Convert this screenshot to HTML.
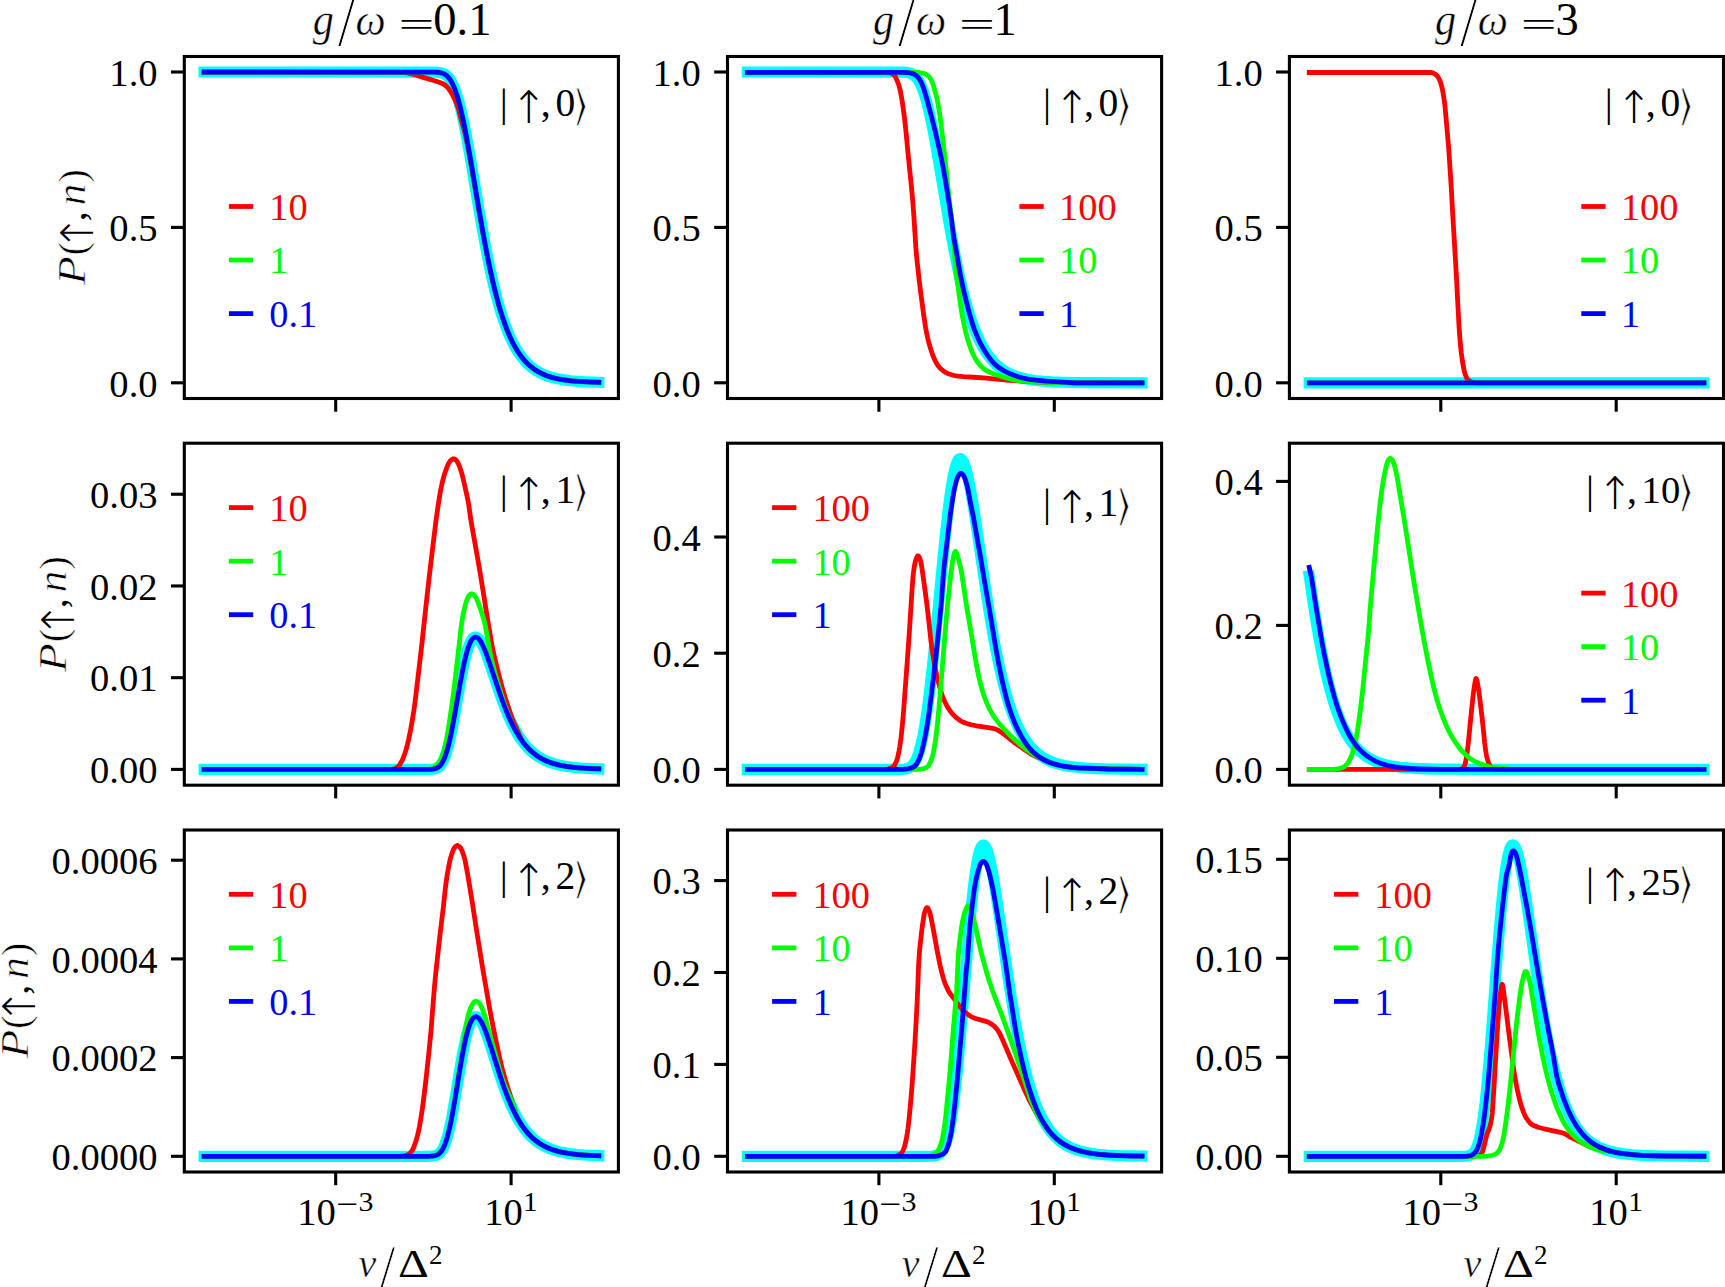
<!DOCTYPE html>
<html><head><meta charset="utf-8"><title>LZ plot</title>
<style>html,body{margin:0;padding:0;background:#fff;}svg{display:block;}</style></head>
<body>
<svg width="1725" height="1287" viewBox="0 0 1725 1287" font-family="'Liberation Serif', 'DejaVu Math TeX Gyre', 'DejaVu Serif', serif">
<g>
<clipPath id="cp00"><rect x="184.30" y="56.50" width="434.10" height="342.00"/></clipPath>
<g clip-path="url(#cp00)">
<path d="M204.15,72.00 L432.58,72.03 L435.21,72.09 L437.52,72.23 L439.49,72.48 L441.14,72.81 L442.78,73.33 L444.10,73.91 L445.42,74.69 L446.40,75.42 L447.39,76.29 L448.38,77.33 L450.02,79.47 L451.01,81.01 L452.00,82.78 L453.65,86.24 L455.29,90.38 L456.94,95.23 L458.58,100.79 L460.23,107.06 L461.87,114.00 L463.52,121.57 L465.17,129.71 L466.81,138.34 L470.43,158.67 L478.99,209.61 L482.94,232.29 L485.24,244.86 L487.22,255.14 L489.52,266.52 L491.50,275.71 L493.80,285.75 L496.43,296.34 L498.74,304.83 L501.37,313.68 L504.01,321.66 L506.64,328.82 L509.27,335.23 L510.59,338.17 L512.23,341.60 L513.88,344.80 L515.53,347.76 L517.17,350.50 L518.82,353.04 L520.46,355.40 L522.11,357.57 L523.75,359.58 L525.73,361.79 L527.37,363.47 L529.35,365.32 L531.32,367.00 L533.30,368.52 L535.27,369.89 L537.58,371.34 L539.88,372.62 L542.19,373.77 L544.49,374.78 L546.79,375.68 L549.43,376.59 L552.06,377.39 L554.69,378.08 L557.66,378.76 L560.62,379.34 L563.91,379.88 L570.82,380.77 L578.72,381.46 L587.94,381.97 L598.80,382.33" fill="none" stroke="#00ffff" stroke-width="11.20" stroke-linecap="square" stroke-linejoin="round"/>
<path d="M204.15,72.30 L398.68,72.30 L403.94,72.47 L405.59,72.60 L407.56,72.93 L413.82,74.51 L416.45,75.27 L422.38,77.11 L432.91,80.21 L439.16,82.22 L441.14,82.95 L442.45,83.53 L443.44,84.04 L445.09,85.19 L446.40,86.33 L447.72,87.66 L449.04,89.33 L450.35,91.23 L451.67,93.45 L453.65,97.06 L454.63,99.00 L455.62,101.17 L457.27,105.28 L458.58,109.27 L460.89,118.32 L463.85,128.83 L464.84,132.83 L465.82,137.29 L467.47,145.35 L468.79,152.28 L471.75,168.85 L480.64,220.35 L484.91,243.85 L486.89,254.06 L488.86,263.82 L490.84,273.10 L492.48,280.43 L494.79,290.08 L497.42,300.25 L499.73,308.39 L502.36,316.87 L504.99,324.51 L507.63,331.36 L510.26,337.48 L511.58,340.29 L513.22,343.57 L514.54,346.03 L516.18,348.90 L517.83,351.56 L519.48,354.02 L521.12,356.29 L522.77,358.40 L524.41,360.34 L526.39,362.48 L528.03,364.11 L530.01,365.90 L531.98,367.52 L533.96,368.99 L535.93,370.33 L538.24,371.72 L540.54,372.96 L542.84,374.07 L545.15,375.05 L547.45,375.92 L550.09,376.80 L552.72,377.57 L555.35,378.24 L558.31,378.89 L561.28,379.45 L564.57,379.98 L571.48,380.84 L579.05,381.48 L587.94,381.97 L598.80,382.33" fill="none" stroke="#ff0000" stroke-width="4.80" stroke-linecap="square" stroke-linejoin="round"/>
<path d="M204.15,72.00 L432.58,72.03 L435.21,72.09 L437.52,72.23 L439.49,72.48 L441.14,72.81 L442.78,73.33 L444.10,73.91 L445.42,74.69 L446.40,75.42 L447.39,76.29 L448.38,77.33 L450.02,79.47 L451.01,81.01 L452.00,82.78 L453.65,86.24 L455.29,90.38 L456.94,95.23 L458.58,100.79 L460.23,107.06 L461.87,114.00 L463.52,121.57 L465.17,129.71 L466.81,138.34 L470.43,158.67 L478.99,209.61 L482.94,232.29 L485.24,244.86 L487.22,255.14 L489.52,266.52 L491.50,275.71 L493.80,285.75 L496.43,296.34 L498.74,304.83 L501.37,313.68 L504.01,321.66 L506.64,328.82 L509.27,335.23 L510.59,338.17 L512.23,341.60 L513.88,344.80 L515.53,347.76 L517.17,350.50 L518.82,353.04 L520.46,355.40 L522.11,357.57 L523.75,359.58 L525.73,361.79 L527.37,363.47 L529.35,365.32 L531.32,367.00 L533.30,368.52 L535.27,369.89 L537.58,371.34 L539.88,372.62 L542.19,373.77 L544.49,374.78 L546.79,375.68 L549.43,376.59 L552.06,377.39 L554.69,378.08 L557.66,378.76 L560.62,379.34 L563.91,379.88 L570.82,380.77 L578.72,381.46 L587.94,381.97 L598.80,382.33" fill="none" stroke="#00ff00" stroke-width="4.80" stroke-linecap="square" stroke-linejoin="round"/>
<path d="M204.15,72.00 L432.58,72.03 L435.21,72.09 L437.52,72.23 L439.49,72.48 L441.14,72.81 L442.78,73.33 L444.10,73.91 L445.42,74.69 L446.40,75.42 L447.39,76.29 L448.38,77.33 L450.02,79.47 L451.01,81.01 L452.00,82.78 L453.65,86.24 L455.29,90.38 L456.94,95.23 L458.58,100.79 L460.23,107.06 L461.87,114.00 L463.52,121.57 L465.17,129.71 L466.81,138.34 L470.43,158.67 L478.99,209.61 L482.94,232.29 L485.24,244.86 L487.22,255.14 L489.52,266.52 L491.50,275.71 L493.80,285.75 L496.43,296.34 L498.74,304.83 L501.37,313.68 L504.01,321.66 L506.64,328.82 L509.27,335.23 L510.59,338.17 L512.23,341.60 L513.88,344.80 L515.53,347.76 L517.17,350.50 L518.82,353.04 L520.46,355.40 L522.11,357.57 L523.75,359.58 L525.73,361.79 L527.37,363.47 L529.35,365.32 L531.32,367.00 L533.30,368.52 L535.27,369.89 L537.58,371.34 L539.88,372.62 L542.19,373.77 L544.49,374.78 L546.79,375.68 L549.43,376.59 L552.06,377.39 L554.69,378.08 L557.66,378.76 L560.62,379.34 L563.91,379.88 L570.82,380.77 L578.72,381.46 L587.94,381.97 L598.80,382.33" fill="none" stroke="#0000ff" stroke-width="4.80" stroke-linecap="square" stroke-linejoin="round"/>
</g>
<rect x="184.30" y="56.50" width="434.10" height="342.00" fill="none" stroke="#000" stroke-width="3.10"/>
<line x1="335.70" y1="398.50" x2="335.70" y2="411.70" stroke="#000" stroke-width="3.10"/>
<line x1="511.10" y1="398.50" x2="511.10" y2="411.70" stroke="#000" stroke-width="3.10"/>
<line x1="171.00" y1="382.80" x2="184.30" y2="382.80" stroke="#000" stroke-width="3.10"/>
<text text-anchor="end"><tspan x="157.60" y="396.50" font-size="38.60">0.0</tspan></text>
<line x1="171.00" y1="227.40" x2="184.30" y2="227.40" stroke="#000" stroke-width="3.10"/>
<text text-anchor="end"><tspan x="157.60" y="241.10" font-size="38.60">0.5</tspan></text>
<line x1="171.00" y1="72.00" x2="184.30" y2="72.00" stroke="#000" stroke-width="3.10"/>
<text text-anchor="end"><tspan x="157.60" y="85.70" font-size="38.60">1.0</tspan></text>
<text><tspan x="312.70" y="34.60" font-size="46.00" font-style="italic" stroke="#fff" stroke-width="0.50" textLength="21.16" lengthAdjust="spacingAndGlyphs">g</tspan><tspan x="337.70" y="45.00" font-size="72.00" stroke="#fff" stroke-width="1.00" textLength="17.60" lengthAdjust="spacingAndGlyphs">/</tspan><tspan x="355.60" y="34.60" font-size="45.00" font-style="italic" stroke="#fff" stroke-width="0.50" textLength="40.87" lengthAdjust="spacingAndGlyphs">ω </tspan><tspan x="398.60" y="35.60" font-size="33.00" textLength="35.92" lengthAdjust="spacingAndGlyphs">=</tspan><tspan x="433.30" y="34.60" font-size="46.50">0.1</tspan></text>
<text transform="translate(85.20,285.10) rotate(-90)"><tspan x="0.00" y="0.00" font-size="40.00" font-style="italic" stroke="#fff" stroke-width="0.60" textLength="28.83" lengthAdjust="spacingAndGlyphs">P</tspan><tspan x="29.70" y="0.80" font-size="41.00" stroke="#fff" stroke-width="0.60">(</tspan><tspan x="34.10" y="7.40" font-size="45.00" font-family="'DejaVu Sans Light', 'DejaVu Sans', serif" textLength="36.57" lengthAdjust="spacingAndGlyphs">↑</tspan><tspan x="63.80" y="0.00" font-size="40.00">, </tspan><tspan x="79.50" y="0.00" font-size="39.00" font-style="italic" stroke="#fff" stroke-width="0.60" textLength="21.84" lengthAdjust="spacingAndGlyphs">n</tspan><tspan x="102.30" y="0.80" font-size="41.00" stroke="#fff" stroke-width="0.60">)</tspan></text>
<text><tspan x="499.70" y="116.30" font-size="40.00">|</tspan><tspan x="510.60" y="123.10" font-size="45.00" font-family="'DejaVu Sans Light', 'DejaVu Sans', serif" textLength="36.57" lengthAdjust="spacingAndGlyphs">↑</tspan><tspan x="540.70" y="116.30" font-size="40.00">,</tspan><tspan x="555.40" y="116.30" font-size="39.50">0</tspan><tspan x="574.90" y="118.90" font-size="44.00" font-family="'DejaVu Math TeX Gyre', 'DejaVu Sans', serif" stroke="#fff" stroke-width="0.70" textLength="12.87" lengthAdjust="spacingAndGlyphs">⟩</tspan></text>
<line x1="231.30" y1="206.50" x2="250.80" y2="206.50" stroke="#ff0000" stroke-width="4.80" stroke-linecap="square"/>
<text fill="#ff0000"><tspan x="269.20" y="219.90" font-size="38.40">10</tspan></text>
<line x1="231.30" y1="260.05" x2="250.80" y2="260.05" stroke="#00ff00" stroke-width="4.80" stroke-linecap="square"/>
<text fill="#00ff00"><tspan x="269.20" y="273.45" font-size="38.40">1</tspan></text>
<line x1="231.30" y1="313.60" x2="250.80" y2="313.60" stroke="#0000ff" stroke-width="4.80" stroke-linecap="square"/>
<text fill="#0000ff"><tspan x="269.20" y="327.00" font-size="38.40">0.1</tspan></text>
</g>
<g>
<clipPath id="cp01"><rect x="727.50" y="56.50" width="434.10" height="342.00"/></clipPath>
<g clip-path="url(#cp01)">
<path d="M747.35,72.00 L901.06,72.04 L905.34,72.24 L906.99,72.43 L908.63,72.74 L910.28,73.22 L911.60,73.77 L912.91,74.50 L913.90,75.19 L915.22,76.33 L916.20,77.38 L917.19,78.60 L918.18,80.02 L919.17,81.64 L920.15,83.49 L921.14,85.58 L922.13,87.91 L923.12,90.48 L924.10,93.32 L925.75,98.61 L927.72,105.90 L929.70,114.17 L931.02,120.19 L932.66,128.23 L934.31,136.78 L936.28,147.60 L939.24,164.68 L948.46,219.43 L951.09,234.34 L953.73,248.54 L956.69,263.52 L959.32,275.88 L961.96,287.29 L964.92,298.98 L967.55,308.38 L968.87,312.75 L970.51,317.89 L973.15,325.44 L974.46,328.92 L976.11,333.00 L977.43,336.06 L979.07,339.65 L980.39,342.34 L982.03,345.48 L983.68,348.39 L985.32,351.09 L986.97,353.58 L988.62,355.90 L990.59,358.44 L992.57,360.75 L994.54,362.85 L996.52,364.76 L998.49,366.49 L1000.79,368.30 L1003.10,369.92 L1005.73,371.55 L1008.04,372.81 L1010.67,374.09 L1013.30,375.20 L1016.26,376.28 L1019.23,377.21 L1022.19,378.01 L1025.48,378.77 L1029.10,379.46 L1032.39,379.99 L1036.01,380.47 L1043.58,381.23 L1052.47,381.82 L1063.00,382.23 L1075.18,382.50 L1090.32,382.67 L1142.00,382.79" fill="none" stroke="#00ffff" stroke-width="11.20" stroke-linecap="square" stroke-linejoin="round"/>
<path d="M747.35,72.30 L880.00,72.30 L886.25,72.36 L887.90,72.47 L889.54,72.70 L890.53,72.98 L891.85,73.53 L892.83,74.06 L893.82,74.83 L894.48,75.48 L895.14,76.38 L895.80,77.59 L896.45,79.03 L898.10,83.11 L899.09,86.12 L900.08,89.83 L901.06,94.66 L902.05,100.31 L903.04,107.04 L904.68,119.41 L905.67,128.59 L908.30,155.99 L911.60,188.46 L912.25,195.51 L912.91,203.41 L913.90,216.59 L915.87,247.68 L916.53,255.34 L917.19,262.11 L919.17,279.98 L920.81,293.45 L923.77,315.39 L925.42,326.44 L926.08,330.23 L926.74,333.55 L927.72,338.04 L928.71,342.07 L929.70,345.69 L931.02,350.01 L932.33,353.93 L933.32,356.57 L934.31,358.88 L935.29,360.86 L936.61,363.26 L937.93,365.38 L938.91,366.75 L939.90,367.90 L941.22,369.14 L942.54,370.24 L944.18,371.46 L945.50,372.29 L947.14,373.16 L948.46,373.71 L951.09,374.58 L953.40,375.23 L956.03,375.82 L958.33,376.21 L963.27,376.69 L973.48,377.27 L986.64,378.20 L990.92,378.58 L1001.78,379.69 L1009.68,380.36 L1015.94,380.80 L1030.09,381.65 L1039.96,382.09 L1048.19,382.29 L1068.27,382.56 L1075.18,382.79 L1142.00,382.80" fill="none" stroke="#ff0000" stroke-width="4.80" stroke-linecap="square" stroke-linejoin="round"/>
<path d="M747.35,72.30 L915.22,72.30 L917.19,72.39 L919.50,72.60 L922.13,73.02 L923.77,73.45 L925.42,74.01 L926.08,74.31 L927.07,74.96 L928.05,75.81 L929.04,76.80 L929.70,77.56 L930.36,78.49 L931.02,79.60 L931.67,80.89 L932.33,82.34 L932.99,84.11 L935.95,94.55 L936.94,98.53 L937.60,101.72 L938.26,105.34 L939.90,115.56 L940.89,122.83 L941.88,131.93 L943.52,145.20 L944.18,151.01 L949.12,197.97 L953.07,233.51 L953.73,241.07 L955.04,260.19 L956.03,270.25 L957.35,281.23 L959.65,298.40 L960.97,307.55 L962.28,315.64 L963.93,324.03 L965.58,331.29 L967.22,337.58 L968.54,342.03 L969.53,345.12 L970.51,347.97 L971.50,350.56 L973.15,354.28 L974.46,356.90 L975.45,358.69 L976.44,360.32 L977.43,361.79 L978.74,363.51 L980.39,365.45 L982.03,367.18 L983.35,368.38 L984.67,369.40 L986.31,370.46 L987.96,371.37 L989.93,372.32 L993.88,373.95 L996.85,375.02 L1000.14,376.07 L1008.04,378.42 L1011.00,379.22 L1013.63,379.81 L1015.61,380.16 L1019.23,380.65 L1026.80,381.47 L1034.04,381.96 L1041.61,382.21 L1058.73,382.56 L1065.31,382.79 L1142.00,382.80" fill="none" stroke="#00ff00" stroke-width="4.80" stroke-linecap="square" stroke-linejoin="round"/>
<path d="M747.35,72.30 L901.72,72.32 L907.97,72.61 L908.96,72.71 L910.28,72.95 L911.92,73.39 L913.90,74.08 L914.89,74.61 L915.87,75.33 L917.19,76.52 L918.51,77.92 L919.17,78.77 L920.15,80.35 L921.47,82.85 L922.13,84.34 L923.12,86.93 L924.10,89.81 L926.08,96.52 L927.39,101.25 L932.66,121.17 L935.62,133.10 L939.24,148.52 L940.89,156.27 L942.54,164.57 L944.18,173.40 L945.83,182.84 L947.80,195.21 L950.76,214.76 L951.75,221.92 L953.40,234.98 L954.06,239.03 L955.70,248.01 L959.32,269.09 L960.64,276.09 L962.94,287.18 L964.92,295.90 L966.89,303.87 L969.85,314.92 L972.16,322.81 L974.13,328.79 L975.12,331.45 L976.44,334.69 L977.75,337.73 L979.40,341.27 L980.72,343.90 L982.36,346.95 L983.68,349.22 L985.32,351.85 L987.63,355.30 L989.60,358.08 L991.25,360.22 L992.90,362.18 L994.54,363.91 L995.86,365.13 L997.83,366.71 L1000.14,368.38 L1002.44,369.87 L1004.74,371.21 L1007.05,372.38 L1009.68,373.55 L1013.30,374.95 L1016.92,376.23 L1019.89,377.18 L1022.85,378.01 L1025.81,378.70 L1028.44,379.19 L1031.73,379.63 L1036.34,380.16 L1045.89,381.02 L1055.43,381.67 L1074.85,382.78 L1142.00,382.80" fill="none" stroke="#0000ff" stroke-width="4.80" stroke-linecap="square" stroke-linejoin="round"/>
</g>
<rect x="727.50" y="56.50" width="434.10" height="342.00" fill="none" stroke="#000" stroke-width="3.10"/>
<line x1="878.90" y1="398.50" x2="878.90" y2="411.70" stroke="#000" stroke-width="3.10"/>
<line x1="1054.30" y1="398.50" x2="1054.30" y2="411.70" stroke="#000" stroke-width="3.10"/>
<line x1="714.20" y1="382.80" x2="727.50" y2="382.80" stroke="#000" stroke-width="3.10"/>
<text text-anchor="end"><tspan x="700.80" y="396.50" font-size="38.60">0.0</tspan></text>
<line x1="714.20" y1="227.40" x2="727.50" y2="227.40" stroke="#000" stroke-width="3.10"/>
<text text-anchor="end"><tspan x="700.80" y="241.10" font-size="38.60">0.5</tspan></text>
<line x1="714.20" y1="72.00" x2="727.50" y2="72.00" stroke="#000" stroke-width="3.10"/>
<text text-anchor="end"><tspan x="700.80" y="85.70" font-size="38.60">1.0</tspan></text>
<text><tspan x="873.00" y="34.60" font-size="46.00" font-style="italic" stroke="#fff" stroke-width="0.50" textLength="21.16" lengthAdjust="spacingAndGlyphs">g</tspan><tspan x="898.00" y="45.00" font-size="72.00" stroke="#fff" stroke-width="1.00" textLength="17.60" lengthAdjust="spacingAndGlyphs">/</tspan><tspan x="915.90" y="34.60" font-size="45.00" font-style="italic" stroke="#fff" stroke-width="0.50" textLength="40.87" lengthAdjust="spacingAndGlyphs">ω </tspan><tspan x="958.90" y="35.60" font-size="33.00" textLength="35.92" lengthAdjust="spacingAndGlyphs">=</tspan><tspan x="993.60" y="34.60" font-size="46.50">1</tspan></text>
<text><tspan x="1042.90" y="116.30" font-size="40.00">|</tspan><tspan x="1053.80" y="123.10" font-size="45.00" font-family="'DejaVu Sans Light', 'DejaVu Sans', serif" textLength="36.57" lengthAdjust="spacingAndGlyphs">↑</tspan><tspan x="1083.90" y="116.30" font-size="40.00">,</tspan><tspan x="1098.60" y="116.30" font-size="39.50">0</tspan><tspan x="1118.10" y="118.90" font-size="44.00" font-family="'DejaVu Math TeX Gyre', 'DejaVu Sans', serif" stroke="#fff" stroke-width="0.70" textLength="12.87" lengthAdjust="spacingAndGlyphs">⟩</tspan></text>
<line x1="1021.80" y1="206.50" x2="1041.30" y2="206.50" stroke="#ff0000" stroke-width="4.80" stroke-linecap="square"/>
<text fill="#ff0000"><tspan x="1059.00" y="219.90" font-size="38.40">100</tspan></text>
<line x1="1021.80" y1="260.05" x2="1041.30" y2="260.05" stroke="#00ff00" stroke-width="4.80" stroke-linecap="square"/>
<text fill="#00ff00"><tspan x="1059.00" y="273.45" font-size="38.40">10</tspan></text>
<line x1="1021.80" y1="313.60" x2="1041.30" y2="313.60" stroke="#0000ff" stroke-width="4.80" stroke-linecap="square"/>
<text fill="#0000ff"><tspan x="1059.00" y="327.00" font-size="38.40">1</tspan></text>
</g>
<g>
<clipPath id="cp02"><rect x="1289.40" y="56.50" width="434.10" height="342.00"/></clipPath>
<g clip-path="url(#cp02)">
<path d="M1309.25,382.80 L1703.90,382.80" fill="none" stroke="#00ffff" stroke-width="11.20" stroke-linecap="square" stroke-linejoin="round"/>
<path d="M1309.25,72.50 L1431.36,72.52 L1432.35,72.71 L1433.67,73.24 L1434.99,74.00 L1436.30,74.91 L1436.96,75.58 L1437.62,76.43 L1438.28,77.45 L1439.26,79.23 L1439.92,80.68 L1440.58,82.54 L1441.24,84.78 L1442.23,88.71 L1443.21,93.72 L1444.20,100.19 L1444.86,105.35 L1445.19,108.56 L1448.48,145.65 L1450.78,179.78 L1451.44,190.39 L1452.43,209.33 L1456.38,275.53 L1457.70,301.93 L1459.01,326.07 L1459.67,335.50 L1460.66,346.94 L1461.32,353.04 L1462.30,360.48 L1463.29,366.35 L1464.28,370.99 L1464.94,373.54 L1465.27,374.57 L1465.93,376.22 L1466.58,377.65 L1467.24,378.84 L1467.90,379.73 L1468.23,380.04 L1469.22,380.73 L1470.20,381.28 L1471.19,381.71 L1472.18,382.03 L1473.50,382.28 L1475.80,382.60 L1478.76,382.80 L1703.90,382.80" fill="none" stroke="#ff0000" stroke-width="4.80" stroke-linecap="square" stroke-linejoin="round"/>
<path d="M1309.25,382.80 L1703.90,382.80" fill="none" stroke="#00ff00" stroke-width="4.80" stroke-linecap="square" stroke-linejoin="round"/>
<path d="M1309.25,382.80 L1703.90,382.80" fill="none" stroke="#0000ff" stroke-width="4.80" stroke-linecap="square" stroke-linejoin="round"/>
</g>
<rect x="1289.40" y="56.50" width="434.10" height="342.00" fill="none" stroke="#000" stroke-width="3.10"/>
<line x1="1440.80" y1="398.50" x2="1440.80" y2="411.70" stroke="#000" stroke-width="3.10"/>
<line x1="1616.20" y1="398.50" x2="1616.20" y2="411.70" stroke="#000" stroke-width="3.10"/>
<line x1="1276.10" y1="382.80" x2="1289.40" y2="382.80" stroke="#000" stroke-width="3.10"/>
<text text-anchor="end"><tspan x="1262.70" y="396.50" font-size="38.60">0.0</tspan></text>
<line x1="1276.10" y1="227.40" x2="1289.40" y2="227.40" stroke="#000" stroke-width="3.10"/>
<text text-anchor="end"><tspan x="1262.70" y="241.10" font-size="38.60">0.5</tspan></text>
<line x1="1276.10" y1="72.00" x2="1289.40" y2="72.00" stroke="#000" stroke-width="3.10"/>
<text text-anchor="end"><tspan x="1262.70" y="85.70" font-size="38.60">1.0</tspan></text>
<text><tspan x="1434.90" y="34.60" font-size="46.00" font-style="italic" stroke="#fff" stroke-width="0.50" textLength="21.16" lengthAdjust="spacingAndGlyphs">g</tspan><tspan x="1459.90" y="45.00" font-size="72.00" stroke="#fff" stroke-width="1.00" textLength="17.60" lengthAdjust="spacingAndGlyphs">/</tspan><tspan x="1477.80" y="34.60" font-size="45.00" font-style="italic" stroke="#fff" stroke-width="0.50" textLength="40.87" lengthAdjust="spacingAndGlyphs">ω </tspan><tspan x="1520.80" y="35.60" font-size="33.00" textLength="35.92" lengthAdjust="spacingAndGlyphs">=</tspan><tspan x="1555.50" y="34.60" font-size="46.50">3</tspan></text>
<text><tspan x="1604.80" y="116.30" font-size="40.00">|</tspan><tspan x="1615.70" y="123.10" font-size="45.00" font-family="'DejaVu Sans Light', 'DejaVu Sans', serif" textLength="36.57" lengthAdjust="spacingAndGlyphs">↑</tspan><tspan x="1645.80" y="116.30" font-size="40.00">,</tspan><tspan x="1660.50" y="116.30" font-size="39.50">0</tspan><tspan x="1680.00" y="118.90" font-size="44.00" font-family="'DejaVu Math TeX Gyre', 'DejaVu Sans', serif" stroke="#fff" stroke-width="0.70" textLength="12.87" lengthAdjust="spacingAndGlyphs">⟩</tspan></text>
<line x1="1583.70" y1="206.50" x2="1603.20" y2="206.50" stroke="#ff0000" stroke-width="4.80" stroke-linecap="square"/>
<text fill="#ff0000"><tspan x="1620.90" y="219.90" font-size="38.40">100</tspan></text>
<line x1="1583.70" y1="260.05" x2="1603.20" y2="260.05" stroke="#00ff00" stroke-width="4.80" stroke-linecap="square"/>
<text fill="#00ff00"><tspan x="1620.90" y="273.45" font-size="38.40">10</tspan></text>
<line x1="1583.70" y1="313.60" x2="1603.20" y2="313.60" stroke="#0000ff" stroke-width="4.80" stroke-linecap="square"/>
<text fill="#0000ff"><tspan x="1620.90" y="327.00" font-size="38.40">1</tspan></text>
</g>
<g>
<clipPath id="cp10"><rect x="184.30" y="443.20" width="434.10" height="342.00"/></clipPath>
<g clip-path="url(#cp10)">
<path d="M204.15,769.40 L426.33,769.39 L430.28,769.31 L432.91,769.10 L434.88,768.73 L435.87,768.43 L436.86,768.02 L437.85,767.48 L438.50,767.03 L439.82,765.87 L441.14,764.32 L442.45,762.30 L443.77,759.73 L444.76,757.41 L446.07,753.76 L447.06,750.59 L448.05,747.05 L449.37,741.75 L450.68,735.84 L452.00,729.38 L454.30,717.00 L459.24,688.49 L461.22,677.52 L463.52,665.83 L465.49,657.13 L466.81,652.12 L468.13,647.81 L469.44,644.23 L470.43,642.03 L471.42,640.24 L472.08,639.27 L472.74,638.49 L473.39,637.88 L474.05,637.44 L474.71,637.17 L475.37,637.07 L476.36,637.21 L477.34,637.69 L478.33,638.49 L478.99,639.19 L479.65,640.01 L480.64,641.46 L481.95,643.77 L483.27,646.46 L484.59,649.47 L486.56,654.48 L488.86,660.89 L498.08,688.54 L502.36,700.72 L504.66,706.84 L506.64,711.79 L508.94,717.21 L510.92,721.54 L512.89,725.59 L514.87,729.36 L516.84,732.85 L519.15,736.59 L521.12,739.53 L523.42,742.66 L525.40,745.10 L527.70,747.69 L530.34,750.34 L533.30,752.95 L536.26,755.22 L539.55,757.39 L542.84,759.24 L546.47,760.96 L550.09,762.39 L554.04,763.68 L558.31,764.82 L562.59,765.73 L567.20,766.51 L572.47,767.21 L578.06,767.76 L584.32,768.22 L591.23,768.58 L598.80,768.85" fill="none" stroke="#00ffff" stroke-width="11.20" stroke-linecap="square" stroke-linejoin="round"/>
<path d="M204.15,769.40 L388.80,769.40 L390.45,769.31 L392.09,769.14 L394.40,768.78 L395.06,768.59 L396.04,768.10 L397.03,767.44 L398.35,766.36 L399.01,765.66 L399.99,764.28 L400.98,762.58 L402.30,760.00 L403.29,757.80 L404.93,753.30 L405.92,750.18 L406.91,746.73 L408.55,739.84 L410.53,730.24 L412.17,721.14 L413.82,710.78 L414.81,703.86 L415.79,696.09 L420.40,656.88 L422.05,642.38 L425.01,614.83 L428.96,579.13 L432.25,551.22 L435.54,524.35 L436.53,516.79 L438.18,505.21 L440.15,492.82 L440.81,489.25 L441.47,486.13 L442.45,481.82 L443.44,477.93 L444.43,474.46 L445.09,472.39 L447.06,466.96 L448.05,464.66 L448.71,463.33 L449.37,462.20 L450.35,460.81 L451.01,460.06 L451.67,459.56 L452.66,459.05 L453.32,458.84 L453.65,458.80 L454.30,458.91 L454.96,459.23 L455.95,459.92 L456.61,460.66 L457.27,461.68 L458.25,463.48 L458.91,464.93 L459.90,467.51 L461.54,472.57 L462.53,476.23 L463.85,481.82 L467.47,497.93 L468.79,504.91 L470.43,517.11 L471.09,521.49 L476.69,552.81 L479.98,571.86 L481.62,581.83 L486.89,615.00 L491.17,640.74 L492.16,646.22 L493.14,651.13 L495.45,661.26 L499.40,677.15 L502.03,686.99 L504.99,696.96 L509.27,710.25 L511.25,715.99 L512.89,720.24 L514.54,724.08 L520.79,738.05 L521.78,740.03 L522.77,741.75 L523.75,743.18 L525.07,744.87 L526.72,746.71 L529.02,749.05 L531.00,750.94 L532.64,752.40 L534.29,753.75 L536.26,755.22 L538.24,756.57 L540.21,757.79 L542.19,758.89 L544.16,759.90 L546.14,760.82 L548.44,761.77 L552.72,763.28 L557.66,764.66 L562.92,765.79 L568.52,766.71 L574.77,767.46 L581.68,768.05 L589.58,768.50 L598.80,768.85" fill="none" stroke="#ff0000" stroke-width="4.80" stroke-linecap="square" stroke-linejoin="round"/>
<path d="M204.15,769.40 L427.31,769.40 L428.96,769.28 L430.60,768.93 L431.92,768.53 L433.57,767.93 L434.55,767.39 L435.21,766.90 L436.20,766.03 L437.52,764.67 L438.18,763.87 L439.49,761.88 L440.81,759.42 L441.47,758.04 L442.12,756.45 L443.11,753.64 L444.43,749.16 L445.42,745.03 L447.06,736.48 L448.71,726.87 L450.35,715.97 L452.33,701.94 L453.97,689.30 L455.29,678.45 L461.22,626.49 L462.53,617.82 L463.52,612.44 L464.18,609.39 L465.49,604.36 L466.81,600.21 L467.80,597.81 L468.46,596.54 L469.12,595.46 L469.44,595.04 L470.10,594.47 L470.76,594.03 L471.42,593.81 L471.75,593.81 L472.41,593.98 L473.39,594.48 L474.05,594.95 L475.04,596.14 L476.36,598.29 L477.34,600.46 L478.66,603.95 L481.29,611.53 L482.94,616.69 L484.59,622.70 L485.57,627.02 L486.56,632.31 L489.85,651.45 L491.50,659.27 L493.14,666.20 L495.45,675.00 L498.74,686.22 L501.37,694.56 L505.32,706.41 L506.97,711.05 L509.60,717.88 L511.58,722.64 L513.22,726.22 L515.20,730.03 L517.17,733.46 L519.48,737.10 L522.11,740.90 L523.75,743.08 L525.07,744.71 L526.72,746.61 L528.36,748.38 L531.32,751.25 L534.62,754.00 L536.26,755.22 L537.91,756.35 L539.88,757.59 L541.86,758.72 L543.83,759.74 L545.81,760.67 L549.76,762.27 L554.04,763.68 L558.97,764.97 L564.24,766.03 L569.51,766.84 L575.76,767.55 L582.34,768.09 L589.91,768.52 L598.80,768.85" fill="none" stroke="#00ff00" stroke-width="4.80" stroke-linecap="square" stroke-linejoin="round"/>
<path d="M204.15,769.40 L426.33,769.39 L430.28,769.31 L432.91,769.10 L434.88,768.73 L435.87,768.43 L436.86,768.02 L437.85,767.48 L438.50,767.03 L439.82,765.87 L441.14,764.32 L442.45,762.30 L443.77,759.73 L444.76,757.41 L446.07,753.76 L447.06,750.59 L448.05,747.05 L449.37,741.75 L450.68,735.84 L452.00,729.38 L454.30,717.00 L459.24,688.49 L461.22,677.52 L463.52,665.83 L465.49,657.13 L466.81,652.12 L468.13,647.81 L469.44,644.23 L470.43,642.03 L471.42,640.24 L472.08,639.27 L472.74,638.49 L473.39,637.88 L474.05,637.44 L474.71,637.17 L475.37,637.07 L476.36,637.21 L477.34,637.69 L478.33,638.49 L478.99,639.19 L479.65,640.01 L480.64,641.46 L481.95,643.77 L483.27,646.46 L484.59,649.47 L486.56,654.48 L488.86,660.89 L498.08,688.54 L502.36,700.72 L504.66,706.84 L506.64,711.79 L508.94,717.21 L510.92,721.54 L512.89,725.59 L514.87,729.36 L516.84,732.85 L519.15,736.59 L521.12,739.53 L523.42,742.66 L525.40,745.10 L527.70,747.69 L530.34,750.34 L533.30,752.95 L536.26,755.22 L539.55,757.39 L542.84,759.24 L546.47,760.96 L550.09,762.39 L554.04,763.68 L558.31,764.82 L562.59,765.73 L567.20,766.51 L572.47,767.21 L578.06,767.76 L584.32,768.22 L591.23,768.58 L598.80,768.85" fill="none" stroke="#0000ff" stroke-width="4.80" stroke-linecap="square" stroke-linejoin="round"/>
</g>
<rect x="184.30" y="443.20" width="434.10" height="342.00" fill="none" stroke="#000" stroke-width="3.10"/>
<line x1="335.70" y1="785.20" x2="335.70" y2="798.40" stroke="#000" stroke-width="3.10"/>
<line x1="511.10" y1="785.20" x2="511.10" y2="798.40" stroke="#000" stroke-width="3.10"/>
<line x1="171.00" y1="769.40" x2="184.30" y2="769.40" stroke="#000" stroke-width="3.10"/>
<text text-anchor="end"><tspan x="157.60" y="783.10" font-size="38.60">0.00</tspan></text>
<line x1="171.00" y1="677.68" x2="184.30" y2="677.68" stroke="#000" stroke-width="3.10"/>
<text text-anchor="end"><tspan x="157.60" y="691.38" font-size="38.60">0.01</tspan></text>
<line x1="171.00" y1="585.96" x2="184.30" y2="585.96" stroke="#000" stroke-width="3.10"/>
<text text-anchor="end"><tspan x="157.60" y="599.66" font-size="38.60">0.02</tspan></text>
<line x1="171.00" y1="494.24" x2="184.30" y2="494.24" stroke="#000" stroke-width="3.10"/>
<text text-anchor="end"><tspan x="157.60" y="507.94" font-size="38.60">0.03</tspan></text>
<text transform="translate(66.40,672.00) rotate(-90)"><tspan x="0.00" y="0.00" font-size="40.00" font-style="italic" stroke="#fff" stroke-width="0.60" textLength="28.83" lengthAdjust="spacingAndGlyphs">P</tspan><tspan x="29.70" y="0.80" font-size="41.00" stroke="#fff" stroke-width="0.60">(</tspan><tspan x="34.10" y="7.40" font-size="45.00" font-family="'DejaVu Sans Light', 'DejaVu Sans', serif" textLength="36.57" lengthAdjust="spacingAndGlyphs">↑</tspan><tspan x="63.80" y="0.00" font-size="40.00">, </tspan><tspan x="79.50" y="0.00" font-size="39.00" font-style="italic" stroke="#fff" stroke-width="0.60" textLength="21.84" lengthAdjust="spacingAndGlyphs">n</tspan><tspan x="102.30" y="0.80" font-size="41.00" stroke="#fff" stroke-width="0.60">)</tspan></text>
<text><tspan x="499.70" y="502.70" font-size="40.00">|</tspan><tspan x="510.60" y="509.50" font-size="45.00" font-family="'DejaVu Sans Light', 'DejaVu Sans', serif" textLength="36.57" lengthAdjust="spacingAndGlyphs">↑</tspan><tspan x="540.70" y="502.70" font-size="40.00">,</tspan><tspan x="555.40" y="502.70" font-size="39.50">1</tspan><tspan x="574.90" y="505.30" font-size="44.00" font-family="'DejaVu Math TeX Gyre', 'DejaVu Sans', serif" stroke="#fff" stroke-width="0.70" textLength="12.87" lengthAdjust="spacingAndGlyphs">⟩</tspan></text>
<line x1="231.30" y1="507.60" x2="250.80" y2="507.60" stroke="#ff0000" stroke-width="4.80" stroke-linecap="square"/>
<text fill="#ff0000"><tspan x="269.20" y="521.00" font-size="38.40">10</tspan></text>
<line x1="231.30" y1="561.15" x2="250.80" y2="561.15" stroke="#00ff00" stroke-width="4.80" stroke-linecap="square"/>
<text fill="#00ff00"><tspan x="269.20" y="574.55" font-size="38.40">1</tspan></text>
<line x1="231.30" y1="614.70" x2="250.80" y2="614.70" stroke="#0000ff" stroke-width="4.80" stroke-linecap="square"/>
<text fill="#0000ff"><tspan x="269.20" y="628.10" font-size="38.40">0.1</tspan></text>
</g>
<g>
<clipPath id="cp11"><rect x="727.50" y="443.20" width="434.10" height="342.00"/></clipPath>
<g clip-path="url(#cp11)">
<path d="M747.35,769.40 L893.16,769.40 L901.06,769.33 L903.37,769.20 L905.34,768.96 L906.99,768.60 L908.63,768.01 L910.28,767.11 L911.60,766.09 L912.91,764.73 L913.90,763.44 L914.89,761.88 L915.55,760.69 L916.53,758.63 L917.19,757.06 L918.18,754.41 L918.84,752.43 L920.15,747.91 L921.80,741.17 L923.12,734.85 L924.43,727.68 L926.08,717.52 L927.39,708.44 L929.04,695.94 L930.69,682.24 L932.33,667.47 L935.62,635.31 L941.88,569.84 L944.51,543.23 L947.14,518.81 L948.46,507.75 L949.45,500.06 L951.09,488.52 L952.41,480.54 L953.73,473.74 L955.04,468.17 L955.70,465.86 L956.36,463.87 L957.02,462.20 L957.68,460.85 L958.33,459.81 L958.99,459.09 L959.65,458.68 L960.31,458.57 L960.64,458.63 L961.30,458.97 L961.96,459.60 L962.61,460.51 L963.60,462.39 L964.26,463.97 L964.92,465.79 L966.23,470.15 L967.55,475.38 L968.87,481.38 L970.18,488.06 L972.49,501.12 L975.12,517.64 L977.43,533.00 L985.00,584.70 L987.63,601.91 L989.93,616.28 L992.57,631.77 L995.20,646.18 L997.50,657.87 L1000.14,670.17 L1002.77,681.34 L1005.40,691.45 L1008.04,700.54 L1010.67,708.68 L1013.30,715.94 L1014.62,719.27 L1016.26,723.15 L1017.58,726.06 L1019.23,729.45 L1020.87,732.60 L1022.52,735.51 L1024.16,738.19 L1026.14,741.15 L1027.79,743.41 L1029.76,745.89 L1031.73,748.14 L1033.71,750.18 L1035.68,752.03 L1037.99,753.97 L1039.96,755.46 L1042.27,757.03 L1044.57,758.42 L1047.21,759.82 L1049.84,761.04 L1052.47,762.11 L1055.10,763.04 L1058.07,763.95 L1061.03,764.73 L1063.99,765.40 L1067.28,766.03 L1070.57,766.57 L1074.20,767.05 L1078.15,767.49 L1086.70,768.18 L1096.58,768.67 L1108.10,769.00 L1122.58,769.21 L1142.00,769.33" fill="none" stroke="#00ffff" stroke-width="11.20" stroke-linecap="square" stroke-linejoin="round"/>
<path d="M747.35,769.40 L885.26,769.40 L886.58,769.30 L887.90,769.03 L889.21,768.64 L891.19,767.90 L891.85,767.59 L892.50,767.16 L893.49,766.32 L894.15,765.63 L894.48,765.19 L895.14,764.08 L895.80,762.71 L896.45,761.11 L897.11,759.29 L897.44,758.19 L898.10,755.61 L899.09,750.93 L899.75,747.04 L900.73,740.00 L901.39,734.58 L902.38,724.88 L903.37,713.73 L907.32,660.67 L909.29,633.13 L911.92,591.60 L912.91,577.92 L913.24,574.60 L913.90,569.46 L914.56,565.18 L915.22,561.94 L915.87,559.81 L916.86,557.26 L917.19,556.63 L917.52,556.15 L917.85,555.87 L918.18,555.81 L918.51,556.00 L918.84,556.41 L919.17,557.01 L919.82,558.63 L920.48,560.55 L920.81,561.74 L921.14,563.33 L921.80,567.33 L923.77,580.80 L926.74,603.17 L929.04,623.25 L931.02,641.55 L931.67,646.81 L932.66,653.54 L933.98,661.41 L935.29,668.38 L936.94,676.11 L938.59,682.86 L940.89,691.28 L941.88,694.45 L942.54,696.34 L944.18,700.38 L945.17,702.53 L946.49,705.12 L947.47,706.86 L948.79,708.93 L950.44,711.27 L951.75,712.97 L953.40,714.86 L954.71,716.19 L956.36,717.63 L958.01,718.95 L959.65,720.16 L960.97,721.01 L962.28,721.75 L963.60,722.38 L966.89,723.57 L968.87,724.15 L971.17,724.74 L976.44,725.86 L980.06,726.46 L991.25,728.11 L993.22,728.46 L995.20,728.95 L996.85,729.62 L999.15,730.91 L1001.78,732.58 L1006.72,736.44 L1011.66,740.45 L1013.63,741.94 L1025.48,750.24 L1030.42,753.62 L1032.06,754.67 L1033.38,755.40 L1035.03,756.13 L1040.29,757.92 L1042.27,758.69 L1043.91,759.48 L1047.53,761.37 L1049.51,762.27 L1052.80,763.47 L1055.76,764.38 L1060.37,765.51 L1065.64,766.48 L1071.89,767.37 L1077.16,767.78 L1083.41,768.06 L1097.56,768.50 L1104.81,768.88 L1109.74,769.03 L1122.91,769.22 L1142.00,769.33" fill="none" stroke="#ff0000" stroke-width="4.80" stroke-linecap="square" stroke-linejoin="round"/>
<path d="M747.35,769.40 L916.53,769.39 L918.18,769.32 L920.15,769.13 L922.13,768.88 L923.44,768.62 L924.76,768.21 L926.08,767.64 L927.07,767.09 L927.72,766.50 L928.38,765.66 L929.04,764.63 L930.03,762.83 L930.69,761.49 L931.67,758.89 L932.66,755.60 L933.32,752.93 L934.31,747.69 L935.29,741.48 L935.95,736.74 L936.61,731.39 L937.60,722.48 L938.91,708.39 L940.56,689.22 L943.85,648.09 L946.16,620.51 L947.47,605.97 L948.79,592.85 L950.11,580.70 L951.09,572.21 L952.08,564.79 L952.74,560.34 L953.40,556.86 L954.06,554.25 L954.38,553.27 L954.71,552.52 L955.04,551.85 L955.37,551.44 L955.70,551.48 L956.03,551.90 L956.69,553.25 L959.65,563.62 L960.31,566.26 L960.97,569.32 L961.96,575.15 L966.89,607.99 L967.88,613.95 L970.84,630.85 L975.45,659.22 L976.44,664.77 L978.08,673.19 L979.40,679.35 L980.39,683.49 L982.36,690.61 L984.34,696.70 L985.32,699.39 L986.64,702.68 L988.95,707.83 L991.25,712.27 L993.55,716.04 L994.87,717.97 L996.52,720.19 L1000.14,724.68 L1003.10,727.96 L1008.04,733.11 L1011.33,736.39 L1014.95,739.81 L1018.57,743.06 L1022.19,746.11 L1025.48,748.73 L1029.76,751.92 L1033.05,754.15 L1034.70,755.10 L1036.34,755.94 L1041.61,758.40 L1046.55,760.92 L1048.52,761.86 L1051.15,762.89 L1054.12,763.89 L1056.42,764.57 L1058.73,765.14 L1063.99,766.21 L1070.90,767.25 L1073.21,767.50 L1076.17,767.72 L1082.42,768.02 L1097.24,768.49 L1104.81,768.88 L1109.41,769.02 L1122.58,769.21 L1142.00,769.33" fill="none" stroke="#00ff00" stroke-width="4.80" stroke-linecap="square" stroke-linejoin="round"/>
<path d="M747.35,769.40 L901.39,769.39 L904.03,769.20 L907.65,768.76 L909.62,768.40 L911.60,767.87 L912.58,767.45 L913.90,766.64 L915.22,765.56 L916.20,764.52 L916.86,763.55 L917.52,762.37 L918.51,760.34 L919.50,758.11 L920.81,754.47 L922.13,750.03 L923.44,744.47 L925.09,736.45 L926.41,729.52 L927.72,721.72 L929.04,712.48 L931.34,694.76 L934.31,670.52 L935.95,656.22 L939.90,617.58 L940.89,607.38 L941.55,599.37 L943.19,576.14 L943.85,568.82 L944.84,559.88 L946.49,546.57 L948.79,526.90 L950.76,511.12 L951.75,504.13 L953.40,494.03 L954.38,489.01 L956.03,482.25 L956.69,479.98 L957.35,478.06 L958.01,476.53 L958.66,475.24 L959.32,474.38 L959.98,473.80 L960.64,473.44 L960.97,473.40 L961.30,473.47 L961.96,473.81 L962.61,474.31 L962.94,474.65 L963.60,475.69 L964.59,477.74 L965.25,479.45 L966.23,482.55 L967.22,486.19 L968.21,490.34 L970.51,503.33 L972.49,512.45 L973.48,517.54 L980.06,554.68 L984.67,582.10 L988.62,604.86 L994.87,642.51 L997.50,657.63 L998.82,664.69 L1000.47,672.80 L1002.11,680.37 L1003.76,687.52 L1005.73,695.68 L1007.38,701.77 L1009.68,709.26 L1011.99,715.90 L1014.62,722.54 L1017.25,728.45 L1019.89,733.67 L1021.53,736.64 L1023.18,739.41 L1024.82,741.98 L1026.47,744.32 L1028.77,747.29 L1030.75,749.60 L1032.06,750.99 L1033.38,752.24 L1035.68,754.14 L1037.99,755.91 L1040.29,757.52 L1042.27,758.78 L1044.57,760.09 L1046.55,761.06 L1049.18,762.15 L1052.14,763.23 L1055.10,764.18 L1057.74,764.90 L1061.69,765.78 L1068.27,766.89 L1073.21,767.50 L1077.82,767.82 L1084.07,768.08 L1098.22,768.53 L1108.43,769.01 L1122.91,769.22 L1142.00,769.33" fill="none" stroke="#0000ff" stroke-width="4.80" stroke-linecap="square" stroke-linejoin="round"/>
</g>
<rect x="727.50" y="443.20" width="434.10" height="342.00" fill="none" stroke="#000" stroke-width="3.10"/>
<line x1="878.90" y1="785.20" x2="878.90" y2="798.40" stroke="#000" stroke-width="3.10"/>
<line x1="1054.30" y1="785.20" x2="1054.30" y2="798.40" stroke="#000" stroke-width="3.10"/>
<line x1="714.20" y1="769.40" x2="727.50" y2="769.40" stroke="#000" stroke-width="3.10"/>
<text text-anchor="end"><tspan x="700.80" y="783.10" font-size="38.60">0.0</tspan></text>
<line x1="714.20" y1="653.20" x2="727.50" y2="653.20" stroke="#000" stroke-width="3.10"/>
<text text-anchor="end"><tspan x="700.80" y="666.90" font-size="38.60">0.2</tspan></text>
<line x1="714.20" y1="537.00" x2="727.50" y2="537.00" stroke="#000" stroke-width="3.10"/>
<text text-anchor="end"><tspan x="700.80" y="550.70" font-size="38.60">0.4</tspan></text>
<text><tspan x="1042.90" y="516.30" font-size="40.00">|</tspan><tspan x="1053.80" y="523.10" font-size="45.00" font-family="'DejaVu Sans Light', 'DejaVu Sans', serif" textLength="36.57" lengthAdjust="spacingAndGlyphs">↑</tspan><tspan x="1083.90" y="516.30" font-size="40.00">,</tspan><tspan x="1098.60" y="516.30" font-size="39.50">1</tspan><tspan x="1118.10" y="518.90" font-size="44.00" font-family="'DejaVu Math TeX Gyre', 'DejaVu Sans', serif" stroke="#fff" stroke-width="0.70" textLength="12.87" lengthAdjust="spacingAndGlyphs">⟩</tspan></text>
<line x1="774.50" y1="507.60" x2="794.00" y2="507.60" stroke="#ff0000" stroke-width="4.80" stroke-linecap="square"/>
<text fill="#ff0000"><tspan x="812.40" y="521.00" font-size="38.40">100</tspan></text>
<line x1="774.50" y1="561.15" x2="794.00" y2="561.15" stroke="#00ff00" stroke-width="4.80" stroke-linecap="square"/>
<text fill="#00ff00"><tspan x="812.40" y="574.55" font-size="38.40">10</tspan></text>
<line x1="774.50" y1="614.70" x2="794.00" y2="614.70" stroke="#0000ff" stroke-width="4.80" stroke-linecap="square"/>
<text fill="#0000ff"><tspan x="812.40" y="628.10" font-size="38.40">1</tspan></text>
</g>
<g>
<clipPath id="cp12"><rect x="1289.40" y="443.20" width="434.10" height="342.00"/></clipPath>
<g clip-path="url(#cp12)">
<path d="M1309.25,576.00 L1312.87,600.74 L1316.16,621.63 L1319.45,640.74 L1322.42,656.34 L1324.06,664.35 L1325.71,671.89 L1327.35,678.98 L1329.00,685.63 L1330.64,691.85 L1332.29,697.67 L1333.94,703.09 L1335.91,709.12 L1337.56,713.75 L1339.53,718.88 L1341.51,723.57 L1343.48,727.84 L1345.46,731.74 L1347.43,735.29 L1349.41,738.52 L1351.71,741.92 L1354.01,744.96 L1356.32,747.67 L1358.62,750.09 L1361.26,752.53 L1363.89,754.67 L1366.52,756.54 L1369.48,758.37 L1372.45,759.94 L1374.75,761.01 L1377.05,761.95 L1379.69,762.91 L1382.32,763.74 L1384.95,764.47 L1387.92,765.17 L1390.88,765.78 L1393.84,766.30 L1400.42,767.20 L1407.99,767.92 L1416.88,768.47 L1427.09,768.86 L1436.30,769.07 L1447.16,769.21 L1478.10,769.36 L1703.90,769.40" fill="none" stroke="#00ffff" stroke-width="11.20" stroke-linecap="square" stroke-linejoin="round"/>
<path d="M1309.25,769.40 L1457.04,769.40 L1458.68,769.33 L1460.33,769.14 L1461.98,768.82 L1462.96,768.52 L1463.29,768.18 L1463.95,766.94 L1464.94,764.29 L1465.27,763.19 L1465.93,760.29 L1466.91,754.64 L1467.57,749.53 L1468.23,743.73 L1471.85,707.21 L1473.17,695.16 L1473.82,690.05 L1475.14,681.54 L1475.47,679.92 L1475.80,678.85 L1476.13,678.50 L1476.46,678.87 L1476.79,679.78 L1477.12,681.11 L1478.43,688.52 L1479.09,692.90 L1482.05,717.37 L1483.37,729.65 L1484.69,743.07 L1485.67,750.68 L1486.33,754.70 L1486.99,757.64 L1487.65,760.01 L1488.64,762.84 L1489.95,766.00 L1490.28,766.60 L1490.61,767.03 L1490.94,767.30 L1492.26,768.11 L1493.57,768.73 L1495.22,769.24 L1496.21,769.38 L1496.87,769.40 L1703.90,769.40" fill="none" stroke="#ff0000" stroke-width="4.80" stroke-linecap="square" stroke-linejoin="round"/>
<path d="M1309.25,769.40 L1330.97,769.40 L1332.95,769.33 L1336.57,768.95 L1338.87,768.59 L1341.18,767.99 L1343.48,767.12 L1344.14,766.75 L1345.13,766.02 L1346.77,764.41 L1348.09,762.79 L1349.41,760.56 L1351.05,757.04 L1352.04,754.43 L1353.03,751.32 L1354.34,746.52 L1355.33,742.27 L1356.32,737.26 L1357.31,731.68 L1358.29,725.30 L1360.60,708.00 L1362.90,687.96 L1365.53,661.55 L1367.84,639.23 L1368.83,627.50 L1370.14,608.72 L1373.10,575.52 L1377.71,526.03 L1379.36,510.00 L1380.35,501.40 L1381.66,491.51 L1382.98,482.72 L1384.30,475.30 L1385.94,467.42 L1386.93,463.70 L1387.59,461.84 L1388.25,460.30 L1388.57,459.73 L1389.23,459.01 L1389.89,458.51 L1390.22,458.40 L1390.55,458.44 L1391.21,458.79 L1391.87,459.36 L1392.20,459.78 L1392.85,460.99 L1393.84,463.45 L1394.50,465.63 L1395.49,469.56 L1396.80,475.55 L1397.46,478.84 L1404.04,518.62 L1414.25,583.83 L1420.50,620.93 L1424.12,641.12 L1427.41,658.22 L1431.04,675.70 L1432.35,681.67 L1433.67,687.18 L1435.31,693.57 L1436.96,699.50 L1438.28,703.90 L1439.92,709.00 L1441.57,713.71 L1443.21,718.08 L1445.19,722.98 L1447.16,727.50 L1448.81,730.92 L1450.78,734.63 L1452.76,738.05 L1455.06,741.70 L1457.70,745.53 L1460.00,748.63 L1461.98,751.00 L1463.95,753.08 L1466.25,755.26 L1468.23,756.92 L1470.20,758.39 L1472.51,759.92 L1474.81,761.28 L1477.12,762.45 L1479.75,763.61 L1482.38,764.62 L1487.32,766.19 L1488.97,766.62 L1490.61,766.97 L1494.89,767.57 L1504.76,768.60 L1508.39,769.19 L1510.03,769.37 L1703.90,769.40" fill="none" stroke="#00ff00" stroke-width="4.80" stroke-linecap="square" stroke-linejoin="round"/>
<path d="M1309.25,567.31 L1310.57,573.31 L1312.21,582.13 L1315.17,601.57 L1321.10,637.27 L1322.42,644.83 L1324.39,655.05 L1327.68,670.48 L1329.33,677.68 L1330.97,684.44 L1332.95,691.96 L1334.59,697.86 L1336.24,703.34 L1337.89,708.34 L1339.86,713.89 L1341.84,719.00 L1344.14,724.43 L1346.44,729.49 L1348.42,733.49 L1350.06,736.50 L1352.04,739.70 L1354.01,742.61 L1356.32,745.68 L1358.62,748.38 L1361.26,751.07 L1363.89,753.48 L1366.19,755.36 L1368.50,757.01 L1372.12,759.24 L1375.41,761.05 L1377.71,762.15 L1379.69,762.98 L1381.33,763.58 L1383.97,764.40 L1386.93,765.24 L1389.56,765.89 L1392.20,766.44 L1394.83,766.88 L1402.07,767.73 L1409.97,768.38 L1419.19,768.83 L1430.38,769.20 L1440.91,769.40 L1703.90,769.40" fill="none" stroke="#0000ff" stroke-width="4.80" stroke-linecap="square" stroke-linejoin="round"/>
</g>
<rect x="1289.40" y="443.20" width="434.10" height="342.00" fill="none" stroke="#000" stroke-width="3.10"/>
<line x1="1440.80" y1="785.20" x2="1440.80" y2="798.40" stroke="#000" stroke-width="3.10"/>
<line x1="1616.20" y1="785.20" x2="1616.20" y2="798.40" stroke="#000" stroke-width="3.10"/>
<line x1="1276.10" y1="769.40" x2="1289.40" y2="769.40" stroke="#000" stroke-width="3.10"/>
<text text-anchor="end"><tspan x="1262.70" y="783.10" font-size="38.60">0.0</tspan></text>
<line x1="1276.10" y1="625.40" x2="1289.40" y2="625.40" stroke="#000" stroke-width="3.10"/>
<text text-anchor="end"><tspan x="1262.70" y="639.10" font-size="38.60">0.2</tspan></text>
<line x1="1276.10" y1="481.40" x2="1289.40" y2="481.40" stroke="#000" stroke-width="3.10"/>
<text text-anchor="end"><tspan x="1262.70" y="495.10" font-size="38.60">0.4</tspan></text>
<text><tspan x="1585.90" y="502.60" font-size="40.00">|</tspan><tspan x="1596.80" y="509.40" font-size="45.00" font-family="'DejaVu Sans Light', 'DejaVu Sans', serif" textLength="36.57" lengthAdjust="spacingAndGlyphs">↑</tspan><tspan x="1626.90" y="502.60" font-size="40.00">,</tspan><tspan x="1641.60" y="502.60" font-size="38.60">10</tspan><tspan x="1680.00" y="505.20" font-size="44.00" font-family="'DejaVu Math TeX Gyre', 'DejaVu Sans', serif" stroke="#fff" stroke-width="0.70" textLength="12.87" lengthAdjust="spacingAndGlyphs">⟩</tspan></text>
<line x1="1583.70" y1="593.10" x2="1603.20" y2="593.10" stroke="#ff0000" stroke-width="4.80" stroke-linecap="square"/>
<text fill="#ff0000"><tspan x="1620.90" y="606.50" font-size="38.40">100</tspan></text>
<line x1="1583.70" y1="646.65" x2="1603.20" y2="646.65" stroke="#00ff00" stroke-width="4.80" stroke-linecap="square"/>
<text fill="#00ff00"><tspan x="1620.90" y="660.05" font-size="38.40">10</tspan></text>
<line x1="1583.70" y1="700.20" x2="1603.20" y2="700.20" stroke="#0000ff" stroke-width="4.80" stroke-linecap="square"/>
<text fill="#0000ff"><tspan x="1620.90" y="713.60" font-size="38.40">1</tspan></text>
</g>
<g>
<clipPath id="cp20"><rect x="184.30" y="830.00" width="434.10" height="342.00"/></clipPath>
<g clip-path="url(#cp20)">
<path d="M204.15,1156.30 L426.65,1156.29 L430.60,1156.21 L433.24,1156.00 L435.21,1155.61 L436.20,1155.30 L437.19,1154.87 L438.18,1154.31 L438.83,1153.84 L440.15,1152.64 L441.47,1151.02 L442.78,1148.91 L444.10,1146.22 L445.09,1143.80 L446.40,1139.97 L447.39,1136.65 L448.38,1132.94 L449.70,1127.38 L451.01,1121.17 L452.33,1114.37 L454.96,1099.38 L459.57,1071.26 L461.54,1059.67 L463.85,1047.30 L465.82,1038.08 L467.14,1032.77 L468.46,1028.20 L469.77,1024.39 L470.76,1022.04 L471.75,1020.13 L472.41,1019.10 L473.06,1018.25 L473.72,1017.60 L474.38,1017.12 L475.04,1016.83 L475.70,1016.71 L476.03,1016.71 L476.69,1016.84 L477.67,1017.32 L478.66,1018.15 L479.32,1018.87 L479.98,1019.73 L480.96,1021.25 L482.28,1023.67 L483.60,1026.49 L484.91,1029.66 L486.89,1034.93 L489.19,1041.68 L491.50,1048.83 L498.41,1070.84 L502.69,1083.71 L504.99,1090.16 L507.30,1096.24 L509.60,1101.91 L511.58,1106.44 L513.55,1110.67 L515.53,1114.60 L517.50,1118.24 L519.48,1121.61 L521.45,1124.71 L523.75,1128.02 L525.73,1130.60 L528.03,1133.34 L530.67,1136.14 L533.63,1138.90 L536.59,1141.31 L539.88,1143.60 L543.17,1145.56 L546.47,1147.22 L550.09,1148.76 L554.04,1150.15 L558.31,1151.37 L562.59,1152.35 L567.20,1153.19 L572.47,1153.94 L578.06,1154.54 L584.32,1155.03 L591.23,1155.42 L598.80,1155.71" fill="none" stroke="#00ffff" stroke-width="11.20" stroke-linecap="square" stroke-linejoin="round"/>
<path d="M204.15,1156.30 L398.35,1156.30 L400.65,1156.17 L403.94,1155.79 L405.59,1155.48 L406.91,1155.08 L408.22,1154.55 L409.21,1153.91 L410.20,1153.02 L411.18,1151.92 L411.84,1151.08 L412.50,1150.03 L413.16,1148.65 L414.15,1146.15 L415.46,1142.47 L416.12,1140.43 L417.11,1137.02 L418.10,1133.13 L419.41,1126.88 L420.73,1119.35 L422.05,1110.92 L423.36,1101.19 L425.01,1087.91 L426.33,1076.32 L428.96,1051.64 L430.28,1038.55 L431.26,1027.64 L433.24,1002.01 L434.55,985.97 L435.87,972.23 L439.82,936.55 L443.44,906.53 L445.09,890.51 L446.07,882.66 L446.73,877.98 L448.05,870.02 L449.37,863.16 L450.35,858.89 L451.67,854.38 L452.33,852.44 L452.99,850.73 L453.65,849.29 L454.63,847.56 L455.29,846.68 L455.62,846.38 L456.61,845.71 L457.27,845.50 L457.59,845.52 L458.25,845.77 L459.24,846.40 L459.57,846.71 L460.56,848.03 L461.54,849.77 L462.53,852.04 L463.85,855.85 L464.84,859.36 L465.49,862.42 L468.13,877.20 L472.08,901.20 L477.01,933.13 L482.94,969.84 L489.19,1006.05 L491.50,1018.51 L494.13,1031.84 L496.76,1044.53 L499.73,1058.14 L501.04,1063.89 L502.36,1069.18 L504.01,1075.21 L505.98,1081.97 L508.61,1090.47 L512.56,1102.63 L515.85,1113.33 L516.84,1116.21 L517.83,1118.68 L518.82,1120.67 L519.80,1122.40 L520.79,1123.96 L522.11,1125.84 L524.74,1129.34 L526.72,1131.81 L528.69,1134.08 L530.67,1136.14 L532.64,1138.02 L534.29,1139.47 L536.26,1141.05 L538.24,1142.50 L540.21,1143.81 L542.19,1145.01 L544.49,1146.26 L546.79,1147.38 L549.10,1148.37 L551.40,1149.26 L553.71,1150.05 L556.34,1150.84 L558.97,1151.54 L561.61,1152.14 L564.57,1152.74 L567.53,1153.25 L573.78,1154.10 L581.03,1154.79 L589.25,1155.32 L598.80,1155.71" fill="none" stroke="#ff0000" stroke-width="4.80" stroke-linecap="square" stroke-linejoin="round"/>
<path d="M204.15,1156.30 L426.65,1156.29 L430.28,1156.20 L432.91,1156.04 L434.55,1155.62 L435.54,1155.21 L436.53,1154.69 L438.18,1153.61 L439.82,1152.27 L442.12,1150.02 L442.78,1149.12 L443.77,1147.13 L445.09,1143.63 L446.73,1138.60 L447.72,1135.01 L449.04,1129.46 L450.68,1121.75 L451.67,1116.81 L452.99,1109.45 L454.96,1097.51 L457.92,1078.21 L461.54,1056.39 L462.53,1049.67 L464.51,1035.17 L465.17,1030.82 L466.48,1023.50 L467.47,1018.59 L468.46,1014.41 L469.12,1012.13 L470.10,1009.29 L471.42,1006.24 L472.74,1003.76 L473.39,1002.73 L473.72,1002.34 L474.38,1001.83 L475.04,1001.43 L475.70,1001.21 L476.03,1001.20 L476.36,1001.25 L477.01,1001.49 L478.33,1002.26 L478.99,1002.90 L479.98,1004.25 L480.96,1005.89 L481.62,1007.25 L482.61,1009.66 L483.93,1013.29 L485.24,1017.59 L488.21,1028.88 L499.40,1068.99 L502.36,1078.51 L503.68,1082.40 L504.99,1085.98 L506.64,1089.89 L510.59,1098.22 L512.23,1102.09 L513.55,1105.84 L516.51,1115.22 L517.83,1118.68 L519.15,1121.26 L520.79,1123.95 L522.44,1126.28 L525.73,1130.60 L528.69,1134.08 L531.65,1137.10 L534.62,1139.74 L537.91,1142.26 L541.20,1144.43 L544.82,1146.42 L548.44,1148.10 L552.39,1149.61 L556.67,1150.93 L560.95,1152.00 L565.89,1152.97 L571.15,1153.77 L577.08,1154.45 L583.33,1154.96 L590.24,1155.37 L598.80,1155.71" fill="none" stroke="#00ff00" stroke-width="4.80" stroke-linecap="square" stroke-linejoin="round"/>
<path d="M204.15,1156.30 L426.65,1156.29 L430.60,1156.21 L433.24,1156.00 L435.21,1155.61 L436.20,1155.30 L437.19,1154.87 L438.18,1154.31 L438.83,1153.84 L440.15,1152.64 L441.47,1151.02 L442.78,1148.91 L444.10,1146.22 L445.09,1143.80 L446.40,1139.97 L447.39,1136.65 L448.38,1132.94 L449.70,1127.38 L451.01,1121.17 L452.33,1114.37 L454.96,1099.38 L459.57,1071.26 L461.54,1059.67 L463.85,1047.30 L465.82,1038.08 L467.14,1032.77 L468.46,1028.20 L469.77,1024.39 L470.76,1022.04 L471.75,1020.13 L472.41,1019.10 L473.06,1018.25 L473.72,1017.60 L474.38,1017.12 L475.04,1016.83 L475.70,1016.71 L476.03,1016.71 L476.69,1016.84 L477.67,1017.32 L478.66,1018.15 L479.32,1018.87 L479.98,1019.73 L480.96,1021.25 L482.28,1023.67 L483.60,1026.49 L484.91,1029.66 L486.89,1034.93 L489.19,1041.68 L491.50,1048.83 L498.41,1070.84 L502.69,1083.71 L504.99,1090.16 L507.30,1096.24 L509.60,1101.91 L511.58,1106.44 L513.55,1110.67 L515.53,1114.60 L517.50,1118.24 L519.48,1121.61 L521.45,1124.71 L523.75,1128.02 L525.73,1130.60 L528.03,1133.34 L530.67,1136.14 L533.63,1138.90 L536.59,1141.31 L539.88,1143.60 L543.17,1145.56 L546.47,1147.22 L550.09,1148.76 L554.04,1150.15 L558.31,1151.37 L562.59,1152.35 L567.20,1153.19 L572.47,1153.94 L578.06,1154.54 L584.32,1155.03 L591.23,1155.42 L598.80,1155.71" fill="none" stroke="#0000ff" stroke-width="4.80" stroke-linecap="square" stroke-linejoin="round"/>
</g>
<rect x="184.30" y="830.00" width="434.10" height="342.00" fill="none" stroke="#000" stroke-width="3.10"/>
<line x1="335.70" y1="1172.00" x2="335.70" y2="1185.20" stroke="#000" stroke-width="3.10"/>
<line x1="511.10" y1="1172.00" x2="511.10" y2="1185.20" stroke="#000" stroke-width="3.10"/>
<line x1="171.00" y1="1156.30" x2="184.30" y2="1156.30" stroke="#000" stroke-width="3.10"/>
<text text-anchor="end"><tspan x="157.60" y="1170.00" font-size="38.60">0.0000</tspan></text>
<line x1="171.00" y1="1057.60" x2="184.30" y2="1057.60" stroke="#000" stroke-width="3.10"/>
<text text-anchor="end"><tspan x="157.60" y="1071.30" font-size="38.60">0.0002</tspan></text>
<line x1="171.00" y1="958.90" x2="184.30" y2="958.90" stroke="#000" stroke-width="3.10"/>
<text text-anchor="end"><tspan x="157.60" y="972.60" font-size="38.60">0.0004</tspan></text>
<line x1="171.00" y1="860.20" x2="184.30" y2="860.20" stroke="#000" stroke-width="3.10"/>
<text text-anchor="end"><tspan x="157.60" y="873.90" font-size="38.60">0.0006</tspan></text>
<text><tspan x="297.30" y="1224.70" font-size="38.60">10</tspan><tspan x="336.40" y="1213.80" font-size="30.00" textLength="21.99" lengthAdjust="spacingAndGlyphs">−</tspan><tspan x="358.40" y="1210.90" font-size="28.00" textLength="14.98" lengthAdjust="spacingAndGlyphs">3</tspan></text>
<text><tspan x="484.20" y="1224.70" font-size="38.60">10</tspan><tspan x="523.10" y="1210.70" font-size="28.00" textLength="14.70" lengthAdjust="spacingAndGlyphs">1</tspan></text>
<text><tspan x="358.50" y="1277.20" font-size="40.00" font-style="italic" stroke="#fff" stroke-width="0.50">v</tspan><tspan x="380.00" y="1287.40" font-size="61.00" stroke="#fff" stroke-width="0.80" textLength="15.25" lengthAdjust="spacingAndGlyphs">/</tspan><tspan x="397.90" y="1277.30" font-size="40.00" textLength="30.87" lengthAdjust="spacingAndGlyphs">Δ</tspan><tspan x="428.90" y="1263.60" font-size="27.00">2</tspan></text>
<text transform="translate(27.80,1058.60) rotate(-90)"><tspan x="0.00" y="0.00" font-size="40.00" font-style="italic" stroke="#fff" stroke-width="0.60" textLength="28.83" lengthAdjust="spacingAndGlyphs">P</tspan><tspan x="29.70" y="0.80" font-size="41.00" stroke="#fff" stroke-width="0.60">(</tspan><tspan x="34.10" y="7.40" font-size="45.00" font-family="'DejaVu Sans Light', 'DejaVu Sans', serif" textLength="36.57" lengthAdjust="spacingAndGlyphs">↑</tspan><tspan x="63.80" y="0.00" font-size="40.00">, </tspan><tspan x="79.50" y="0.00" font-size="39.00" font-style="italic" stroke="#fff" stroke-width="0.60" textLength="21.84" lengthAdjust="spacingAndGlyphs">n</tspan><tspan x="102.30" y="0.80" font-size="41.00" stroke="#fff" stroke-width="0.60">)</tspan></text>
<text><tspan x="499.70" y="889.40" font-size="40.00">|</tspan><tspan x="510.60" y="896.20" font-size="45.00" font-family="'DejaVu Sans Light', 'DejaVu Sans', serif" textLength="36.57" lengthAdjust="spacingAndGlyphs">↑</tspan><tspan x="540.70" y="889.40" font-size="40.00">,</tspan><tspan x="555.40" y="889.40" font-size="39.50">2</tspan><tspan x="574.90" y="892.00" font-size="44.00" font-family="'DejaVu Math TeX Gyre', 'DejaVu Sans', serif" stroke="#fff" stroke-width="0.70" textLength="12.87" lengthAdjust="spacingAndGlyphs">⟩</tspan></text>
<line x1="231.30" y1="894.30" x2="250.80" y2="894.30" stroke="#ff0000" stroke-width="4.80" stroke-linecap="square"/>
<text fill="#ff0000"><tspan x="269.20" y="907.70" font-size="38.40">10</tspan></text>
<line x1="231.30" y1="947.85" x2="250.80" y2="947.85" stroke="#00ff00" stroke-width="4.80" stroke-linecap="square"/>
<text fill="#00ff00"><tspan x="269.20" y="961.25" font-size="38.40">1</tspan></text>
<line x1="231.30" y1="1001.40" x2="250.80" y2="1001.40" stroke="#0000ff" stroke-width="4.80" stroke-linecap="square"/>
<text fill="#0000ff"><tspan x="269.20" y="1014.80" font-size="38.40">0.1</tspan></text>
</g>
<g>
<clipPath id="cp21"><rect x="727.50" y="830.00" width="434.10" height="342.00"/></clipPath>
<g clip-path="url(#cp21)">
<path d="M747.35,1156.30 L922.13,1156.30 L930.03,1156.25 L932.33,1156.15 L934.31,1155.94 L935.95,1155.61 L937.27,1155.18 L938.59,1154.55 L939.90,1153.64 L940.89,1152.73 L941.88,1151.57 L942.86,1150.13 L943.52,1148.98 L944.84,1146.20 L945.83,1143.62 L946.49,1141.63 L947.80,1136.98 L949.12,1131.33 L950.44,1124.58 L951.75,1116.67 L953.07,1107.56 L954.38,1097.24 L955.70,1085.72 L957.02,1073.07 L958.33,1059.37 L959.65,1044.76 L961.30,1025.47 L966.56,960.51 L968.87,933.24 L971.17,908.37 L973.15,889.72 L974.46,878.91 L975.78,869.53 L977.10,861.64 L978.41,855.29 L979.40,851.54 L980.06,849.53 L980.72,847.89 L981.38,846.63 L982.03,845.75 L982.69,845.22 L983.02,845.10 L983.35,845.05 L983.68,845.10 L984.34,845.44 L984.67,845.74 L985.32,846.57 L986.31,848.40 L986.97,849.98 L987.63,851.84 L988.62,855.13 L989.93,860.35 L991.25,866.44 L992.57,873.27 L994.87,886.70 L997.17,901.52 L999.48,917.23 L1007.05,970.16 L1009.35,985.57 L1011.66,1000.30 L1014.29,1016.18 L1016.59,1029.16 L1018.90,1041.24 L1021.20,1052.42 L1023.51,1062.72 L1025.81,1072.15 L1028.11,1080.76 L1030.75,1089.64 L1033.38,1097.58 L1036.01,1104.65 L1038.65,1110.93 L1039.96,1113.79 L1041.61,1117.14 L1043.26,1120.23 L1044.90,1123.09 L1046.55,1125.73 L1048.19,1128.17 L1049.84,1130.42 L1051.81,1132.90 L1053.79,1135.14 L1055.76,1137.18 L1057.74,1139.02 L1059.71,1140.69 L1061.69,1142.20 L1063.99,1143.78 L1066.30,1145.19 L1068.60,1146.44 L1071.23,1147.70 L1073.87,1148.80 L1076.50,1149.76 L1079.13,1150.60 L1082.09,1151.41 L1085.06,1152.12 L1088.35,1152.78 L1091.64,1153.33 L1095.26,1153.85 L1098.88,1154.27 L1107.11,1154.98 L1116.66,1155.50 L1127.85,1155.86 L1142.00,1156.09" fill="none" stroke="#00ffff" stroke-width="11.20" stroke-linecap="square" stroke-linejoin="round"/>
<path d="M747.35,1156.30 L894.15,1156.29 L895.47,1156.13 L896.78,1155.79 L898.10,1155.29 L899.75,1154.53 L900.08,1154.34 L900.73,1153.82 L901.39,1153.11 L902.05,1152.24 L902.71,1151.22 L903.04,1150.59 L904.03,1148.02 L905.34,1143.48 L906.33,1138.86 L907.32,1133.08 L907.97,1128.48 L908.63,1122.91 L909.62,1113.50 L910.61,1103.00 L911.92,1087.02 L913.24,1068.51 L914.89,1043.36 L916.20,1020.54 L917.19,1001.03 L917.85,985.60 L918.51,967.16 L918.84,960.51 L919.50,951.71 L920.15,944.99 L921.47,933.00 L922.46,925.39 L923.77,916.54 L924.43,913.15 L925.42,910.11 L926.08,908.56 L926.41,908.02 L926.74,907.69 L927.07,907.60 L927.39,907.74 L927.72,908.06 L928.38,909.12 L929.70,912.20 L930.36,914.43 L931.02,917.51 L932.99,927.64 L937.27,951.26 L938.59,958.05 L940.23,965.98 L941.88,972.83 L943.19,977.72 L944.51,981.81 L945.50,984.42 L946.49,986.81 L947.47,988.97 L948.46,990.90 L949.45,992.61 L950.44,994.08 L954.06,998.67 L958.01,1004.26 L959.32,1006.00 L960.97,1007.93 L962.94,1010.09 L964.59,1011.73 L966.23,1013.18 L968.21,1014.66 L970.18,1015.97 L972.16,1017.10 L973.80,1017.86 L976.44,1018.76 L985.98,1021.41 L987.96,1022.12 L989.60,1022.92 L991.91,1024.38 L994.21,1026.21 L995.20,1027.17 L996.19,1028.27 L997.83,1030.38 L998.82,1031.86 L999.48,1033.05 L1002.44,1039.38 L1010.67,1058.55 L1021.53,1082.97 L1025.48,1092.00 L1028.11,1097.60 L1031.41,1104.18 L1034.37,1109.61 L1035.68,1111.80 L1037.33,1114.31 L1039.31,1117.09 L1043.58,1122.88 L1048.52,1129.96 L1049.84,1131.72 L1051.15,1133.32 L1052.80,1135.11 L1054.45,1136.77 L1056.09,1138.32 L1057.74,1139.74 L1059.38,1141.04 L1061.03,1142.24 L1063.00,1143.56 L1064.65,1144.58 L1066.62,1145.69 L1068.60,1146.68 L1070.90,1147.74 L1072.88,1148.55 L1074.85,1149.29 L1077.16,1150.05 L1081.77,1151.35 L1087.03,1152.52 L1091.97,1153.38 L1097.89,1154.16 L1104.81,1154.81 L1112.38,1155.30 L1120.61,1155.65 L1130.15,1155.91 L1142.00,1156.09" fill="none" stroke="#ff0000" stroke-width="4.80" stroke-linecap="square" stroke-linejoin="round"/>
<path d="M747.35,1156.30 L928.38,1156.29 L929.37,1156.16 L930.69,1155.79 L932.00,1155.24 L934.31,1154.09 L935.29,1153.50 L935.95,1153.01 L936.94,1152.12 L937.60,1151.40 L938.26,1150.45 L938.91,1149.18 L939.57,1147.67 L940.56,1145.08 L941.55,1141.84 L942.54,1137.80 L943.19,1134.59 L944.18,1128.35 L945.17,1120.94 L946.16,1112.35 L948.13,1092.58 L949.78,1074.39 L951.42,1054.47 L953.40,1028.79 L955.04,1009.71 L956.36,995.35 L956.69,990.57 L958.01,960.26 L958.33,955.32 L958.99,948.10 L960.64,934.04 L961.30,928.94 L961.96,924.65 L962.94,919.44 L963.93,915.09 L964.59,912.81 L965.91,909.15 L966.56,907.54 L967.22,906.29 L967.55,905.86 L967.88,905.59 L968.21,905.50 L968.54,905.61 L968.87,905.90 L969.20,906.36 L969.85,907.66 L971.83,912.82 L972.82,916.01 L975.12,925.07 L980.06,947.53 L981.70,954.40 L984.67,965.41 L986.64,972.44 L988.62,978.93 L990.92,985.98 L992.90,991.69 L995.20,997.95 L997.83,1004.83 L1001.12,1013.07 L1002.44,1016.57 L1013.96,1049.15 L1027.13,1088.58 L1029.76,1096.77 L1030.75,1099.64 L1033.05,1105.36 L1034.37,1108.35 L1035.68,1111.13 L1037.99,1115.47 L1039.31,1117.64 L1040.62,1119.62 L1043.58,1123.64 L1049.18,1130.79 L1051.15,1133.22 L1053.79,1136.13 L1056.75,1138.88 L1058.73,1140.53 L1060.70,1142.02 L1062.68,1143.35 L1064.98,1144.76 L1067.28,1146.03 L1069.59,1147.16 L1071.89,1148.15 L1074.52,1149.17 L1077.16,1150.06 L1079.79,1150.83 L1082.75,1151.60 L1085.72,1152.26 L1089.01,1152.89 L1092.30,1153.43 L1095.92,1153.93 L1099.54,1154.34 L1107.77,1155.03 L1116.98,1155.51 L1128.18,1155.86 L1142.00,1156.09" fill="none" stroke="#00ff00" stroke-width="4.80" stroke-linecap="square" stroke-linejoin="round"/>
<path d="M747.35,1156.30 L935.29,1156.30 L936.61,1156.16 L937.93,1155.89 L939.90,1155.28 L941.88,1154.54 L942.86,1154.02 L943.85,1153.34 L944.84,1152.47 L945.50,1151.73 L946.16,1150.57 L946.81,1149.05 L948.46,1144.39 L949.45,1140.82 L950.76,1134.88 L951.75,1129.03 L952.74,1121.91 L953.73,1114.00 L954.71,1105.15 L956.03,1092.55 L957.35,1078.83 L961.30,1034.03 L963.27,1009.51 L965.91,974.24 L966.23,970.61 L967.22,961.87 L967.55,958.20 L968.87,938.51 L969.53,930.58 L970.18,923.58 L971.17,914.18 L973.48,894.92 L974.46,887.96 L975.45,882.36 L976.77,876.24 L978.08,871.21 L979.73,865.98 L980.39,864.29 L980.72,863.63 L981.70,862.32 L982.36,861.66 L982.69,861.44 L983.02,861.32 L983.35,861.31 L984.01,861.58 L984.67,862.11 L985.65,863.19 L985.98,863.70 L986.31,864.34 L986.97,865.92 L987.96,868.68 L988.95,871.84 L989.93,875.61 L991.58,882.74 L992.90,889.03 L994.21,896.11 L997.17,913.11 L1004.42,956.31 L1005.73,964.86 L1009.68,992.55 L1015.28,1028.18 L1016.59,1035.63 L1017.91,1042.43 L1019.56,1050.36 L1021.53,1059.35 L1023.84,1069.08 L1026.14,1077.95 L1028.44,1086.04 L1031.08,1094.37 L1033.38,1100.90 L1036.01,1107.61 L1038.65,1113.55 L1039.96,1116.26 L1041.61,1119.42 L1043.26,1122.35 L1044.57,1124.50 L1046.22,1126.99 L1048.19,1129.70 L1049.84,1131.78 L1051.81,1134.06 L1053.79,1136.13 L1055.76,1138.02 L1057.74,1139.73 L1059.71,1141.29 L1062.02,1142.92 L1064.32,1144.38 L1066.62,1145.68 L1068.93,1146.84 L1071.56,1148.02 L1074.20,1149.05 L1076.83,1149.95 L1079.79,1150.84 L1082.75,1151.60 L1085.72,1152.26 L1088.68,1152.84 L1091.97,1153.38 L1095.59,1153.89 L1099.21,1154.30 L1107.44,1155.00 L1116.66,1155.50 L1127.85,1155.86 L1142.00,1156.09" fill="none" stroke="#0000ff" stroke-width="4.80" stroke-linecap="square" stroke-linejoin="round"/>
</g>
<rect x="727.50" y="830.00" width="434.10" height="342.00" fill="none" stroke="#000" stroke-width="3.10"/>
<line x1="878.90" y1="1172.00" x2="878.90" y2="1185.20" stroke="#000" stroke-width="3.10"/>
<line x1="1054.30" y1="1172.00" x2="1054.30" y2="1185.20" stroke="#000" stroke-width="3.10"/>
<line x1="714.20" y1="1156.30" x2="727.50" y2="1156.30" stroke="#000" stroke-width="3.10"/>
<text text-anchor="end"><tspan x="700.80" y="1170.00" font-size="38.60">0.0</tspan></text>
<line x1="714.20" y1="1064.40" x2="727.50" y2="1064.40" stroke="#000" stroke-width="3.10"/>
<text text-anchor="end"><tspan x="700.80" y="1078.10" font-size="38.60">0.1</tspan></text>
<line x1="714.20" y1="972.50" x2="727.50" y2="972.50" stroke="#000" stroke-width="3.10"/>
<text text-anchor="end"><tspan x="700.80" y="986.20" font-size="38.60">0.2</tspan></text>
<line x1="714.20" y1="880.60" x2="727.50" y2="880.60" stroke="#000" stroke-width="3.10"/>
<text text-anchor="end"><tspan x="700.80" y="894.30" font-size="38.60">0.3</tspan></text>
<text><tspan x="840.50" y="1224.70" font-size="38.60">10</tspan><tspan x="879.60" y="1213.80" font-size="30.00" textLength="21.99" lengthAdjust="spacingAndGlyphs">−</tspan><tspan x="901.60" y="1210.90" font-size="28.00" textLength="14.98" lengthAdjust="spacingAndGlyphs">3</tspan></text>
<text><tspan x="1027.40" y="1224.70" font-size="38.60">10</tspan><tspan x="1066.30" y="1210.70" font-size="28.00" textLength="14.70" lengthAdjust="spacingAndGlyphs">1</tspan></text>
<text><tspan x="901.70" y="1277.20" font-size="40.00" font-style="italic" stroke="#fff" stroke-width="0.50">v</tspan><tspan x="923.20" y="1287.40" font-size="61.00" stroke="#fff" stroke-width="0.80" textLength="15.25" lengthAdjust="spacingAndGlyphs">/</tspan><tspan x="941.10" y="1277.30" font-size="40.00" textLength="30.87" lengthAdjust="spacingAndGlyphs">Δ</tspan><tspan x="972.10" y="1263.60" font-size="27.00">2</tspan></text>
<text><tspan x="1042.90" y="904.00" font-size="40.00">|</tspan><tspan x="1053.80" y="910.80" font-size="45.00" font-family="'DejaVu Sans Light', 'DejaVu Sans', serif" textLength="36.57" lengthAdjust="spacingAndGlyphs">↑</tspan><tspan x="1083.90" y="904.00" font-size="40.00">,</tspan><tspan x="1098.60" y="904.00" font-size="39.50">2</tspan><tspan x="1118.10" y="906.60" font-size="44.00" font-family="'DejaVu Math TeX Gyre', 'DejaVu Sans', serif" stroke="#fff" stroke-width="0.70" textLength="12.87" lengthAdjust="spacingAndGlyphs">⟩</tspan></text>
<line x1="774.50" y1="894.30" x2="794.00" y2="894.30" stroke="#ff0000" stroke-width="4.80" stroke-linecap="square"/>
<text fill="#ff0000"><tspan x="812.40" y="907.70" font-size="38.40">100</tspan></text>
<line x1="774.50" y1="947.85" x2="794.00" y2="947.85" stroke="#00ff00" stroke-width="4.80" stroke-linecap="square"/>
<text fill="#00ff00"><tspan x="812.40" y="961.25" font-size="38.40">10</tspan></text>
<line x1="774.50" y1="1001.40" x2="794.00" y2="1001.40" stroke="#0000ff" stroke-width="4.80" stroke-linecap="square"/>
<text fill="#0000ff"><tspan x="812.40" y="1014.80" font-size="38.40">1</tspan></text>
</g>
<g>
<clipPath id="cp22"><rect x="1289.40" y="830.00" width="434.10" height="342.00"/></clipPath>
<g clip-path="url(#cp22)">
<path d="M1309.25,1156.30 L1456.71,1156.30 L1463.95,1156.24 L1466.25,1156.11 L1467.90,1155.90 L1469.22,1155.60 L1470.53,1155.11 L1471.85,1154.36 L1472.84,1153.57 L1473.82,1152.52 L1474.81,1151.15 L1475.80,1149.42 L1476.46,1148.02 L1477.12,1146.40 L1477.77,1144.55 L1479.09,1140.05 L1480.41,1134.38 L1481.72,1127.40 L1483.04,1119.01 L1484.36,1109.15 L1485.67,1097.81 L1487.65,1078.14 L1489.95,1051.64 L1492.26,1022.31 L1497.19,956.52 L1499.83,923.90 L1501.14,909.12 L1502.13,898.86 L1503.45,886.42 L1504.44,878.10 L1505.75,868.41 L1506.74,862.24 L1507.73,857.02 L1508.71,852.75 L1509.70,849.43 L1510.69,847.04 L1511.02,846.44 L1511.68,845.55 L1512.34,845.04 L1512.66,844.93 L1512.99,844.91 L1513.32,844.99 L1513.98,845.40 L1514.31,845.73 L1514.97,846.66 L1515.96,848.65 L1516.61,850.35 L1517.27,852.34 L1518.26,855.84 L1519.58,861.35 L1520.56,866.06 L1521.88,873.01 L1523.86,884.62 L1526.16,899.53 L1528.46,915.38 L1536.03,968.91 L1538.67,986.67 L1540.97,1001.45 L1543.60,1017.35 L1546.24,1032.10 L1548.54,1044.02 L1551.17,1056.54 L1553.81,1067.88 L1556.44,1078.11 L1559.07,1087.30 L1560.39,1091.52 L1562.04,1096.47 L1563.35,1100.18 L1565.00,1104.52 L1566.32,1107.77 L1567.96,1111.56 L1569.61,1115.07 L1571.25,1118.32 L1572.90,1121.33 L1574.54,1124.11 L1576.19,1126.68 L1578.16,1129.50 L1580.14,1132.06 L1582.11,1134.38 L1584.09,1136.49 L1586.06,1138.40 L1588.04,1140.13 L1590.34,1141.94 L1592.65,1143.55 L1594.95,1144.98 L1597.58,1146.43 L1600.22,1147.69 L1602.85,1148.79 L1605.81,1149.86 L1608.78,1150.79 L1611.74,1151.58 L1614.70,1152.25 L1617.99,1152.89 L1621.28,1153.43 L1624.90,1153.93 L1628.85,1154.37 L1632.80,1154.73 L1642.02,1155.33 L1652.55,1155.74 L1665.39,1156.02 L1681.52,1156.18 L1703.90,1156.26" fill="none" stroke="#00ffff" stroke-width="11.20" stroke-linecap="square" stroke-linejoin="round"/>
<path d="M1309.25,1156.30 L1473.50,1156.30 L1475.14,1156.20 L1477.12,1155.83 L1479.42,1155.13 L1479.75,1154.99 L1480.41,1154.56 L1481.07,1153.92 L1482.05,1152.62 L1482.38,1151.95 L1483.04,1149.99 L1484.69,1143.69 L1486.66,1135.31 L1487.32,1133.28 L1488.97,1129.31 L1489.62,1127.25 L1490.28,1124.89 L1491.27,1120.36 L1491.93,1116.20 L1492.26,1113.05 L1492.59,1108.85 L1493.90,1088.81 L1496.87,1037.97 L1497.85,1023.05 L1498.51,1014.16 L1499.50,1001.96 L1500.16,995.76 L1500.81,990.62 L1501.47,986.33 L1501.80,984.95 L1502.13,984.32 L1502.46,984.65 L1502.79,985.97 L1503.12,987.99 L1505.09,1002.86 L1509.37,1037.03 L1513.32,1066.75 L1513.98,1071.24 L1514.97,1077.28 L1515.96,1082.84 L1516.94,1087.92 L1518.59,1095.49 L1520.23,1102.22 L1521.55,1106.65 L1523.53,1112.14 L1524.51,1114.50 L1525.17,1115.90 L1525.83,1117.15 L1526.49,1118.24 L1527.81,1120.18 L1528.79,1121.49 L1530.11,1123.00 L1531.10,1123.92 L1532.41,1124.82 L1534.39,1125.81 L1536.36,1126.60 L1539.00,1127.44 L1542.95,1128.53 L1545.25,1129.09 L1553.48,1130.80 L1560.39,1132.31 L1562.04,1132.74 L1563.68,1133.27 L1564.67,1133.70 L1565.66,1134.24 L1569.28,1136.53 L1570.92,1137.43 L1581.46,1142.72 L1584.09,1143.98 L1587.38,1145.73 L1589.36,1146.58 L1590.34,1146.86 L1591.33,1146.99 L1599.56,1147.11 L1600.55,1147.24 L1602.19,1147.78 L1605.81,1149.59 L1607.46,1150.26 L1612.40,1151.65 L1615.03,1152.25 L1617.66,1152.78 L1623.26,1153.68 L1630.17,1154.49 L1637.74,1155.09 L1646.30,1155.53 L1656.17,1155.84 L1668.35,1156.06 L1683.49,1156.19 L1703.90,1156.26" fill="none" stroke="#ff0000" stroke-width="4.80" stroke-linecap="square" stroke-linejoin="round"/>
<path d="M1309.25,1156.30 L1484.03,1156.29 L1486.00,1156.21 L1488.64,1155.98 L1490.28,1155.78 L1491.60,1155.52 L1493.24,1155.06 L1494.89,1154.44 L1495.88,1153.93 L1496.54,1153.44 L1497.85,1152.13 L1498.84,1150.86 L1499.50,1149.89 L1500.16,1148.59 L1501.14,1146.01 L1502.46,1141.62 L1503.12,1138.89 L1503.78,1135.43 L1505.09,1127.41 L1506.08,1120.65 L1507.07,1113.18 L1508.39,1102.60 L1509.37,1094.07 L1511.02,1078.64 L1514.64,1041.57 L1515.63,1032.02 L1517.27,1017.09 L1519.25,1000.94 L1521.22,987.19 L1522.21,981.79 L1523.53,976.24 L1524.18,973.84 L1524.84,972.09 L1525.17,971.56 L1525.50,971.31 L1525.83,971.35 L1526.16,971.58 L1526.49,971.97 L1526.82,972.53 L1527.48,974.03 L1528.13,975.95 L1528.79,978.15 L1529.78,981.70 L1530.11,983.16 L1530.77,986.90 L1532.08,995.50 L1538.01,1031.16 L1539.65,1040.41 L1541.30,1049.14 L1543.60,1060.44 L1545.91,1070.79 L1548.21,1080.06 L1550.52,1088.50 L1552.82,1095.94 L1554.47,1100.79 L1555.78,1104.43 L1557.10,1107.86 L1558.42,1111.07 L1561.38,1117.69 L1562.69,1120.37 L1564.01,1122.84 L1565.00,1124.53 L1566.64,1127.13 L1568.29,1129.50 L1569.61,1131.24 L1570.92,1132.83 L1572.57,1134.62 L1575.53,1137.49 L1577.18,1138.91 L1578.82,1140.22 L1580.80,1141.67 L1582.77,1143.01 L1584.75,1144.24 L1586.39,1145.17 L1590.67,1147.27 L1592.65,1148.12 L1594.29,1148.75 L1595.94,1149.27 L1597.91,1149.78 L1602.19,1150.64 L1605.48,1151.09 L1611.08,1151.55 L1613.05,1151.77 L1615.03,1152.11 L1620.30,1153.24 L1626.22,1154.06 L1633.13,1154.75 L1640.70,1155.26 L1651.24,1155.70 L1664.40,1156.00 L1680.86,1156.17 L1703.90,1156.26" fill="none" stroke="#00ff00" stroke-width="4.80" stroke-linecap="square" stroke-linejoin="round"/>
<path d="M1309.25,1156.30 L1464.94,1156.29 L1466.58,1156.19 L1468.23,1155.96 L1470.53,1155.49 L1471.52,1155.15 L1472.84,1154.40 L1474.15,1153.39 L1475.14,1152.44 L1475.80,1151.57 L1476.46,1150.51 L1477.45,1148.61 L1478.43,1146.13 L1479.42,1142.87 L1480.74,1137.62 L1481.72,1132.60 L1483.04,1124.80 L1484.03,1118.04 L1485.02,1110.49 L1486.33,1099.33 L1487.98,1083.24 L1488.97,1072.08 L1490.61,1052.20 L1494.56,1001.68 L1495.55,987.82 L1497.19,962.56 L1498.51,946.11 L1500.16,928.62 L1502.79,903.98 L1503.78,895.25 L1505.42,882.10 L1506.08,877.38 L1506.74,873.55 L1507.40,870.90 L1508.39,867.96 L1509.04,865.60 L1509.37,863.99 L1510.69,856.37 L1511.02,854.86 L1511.68,852.77 L1512.01,852.01 L1512.66,851.15 L1512.99,850.90 L1513.32,850.86 L1513.65,850.98 L1513.98,851.19 L1514.64,851.79 L1514.97,852.22 L1515.30,852.81 L1515.96,854.29 L1516.61,856.20 L1517.60,860.02 L1519.25,867.33 L1521.22,876.97 L1526.82,906.86 L1530.11,925.18 L1531.75,934.80 L1538.01,972.51 L1542.95,1000.85 L1548.21,1029.42 L1552.82,1052.93 L1553.81,1058.61 L1555.78,1070.92 L1556.44,1074.56 L1557.10,1077.65 L1558.42,1082.69 L1560.06,1088.02 L1563.02,1097.01 L1565.66,1104.15 L1567.96,1109.75 L1570.59,1115.45 L1572.90,1119.90 L1575.53,1124.41 L1577.18,1126.96 L1579.15,1129.76 L1581.13,1132.31 L1583.10,1134.63 L1585.08,1136.75 L1587.05,1138.66 L1589.03,1140.38 L1591.33,1142.19 L1593.63,1143.79 L1595.94,1145.22 L1598.24,1146.48 L1600.88,1147.75 L1603.51,1148.86 L1606.47,1149.93 L1609.43,1150.86 L1612.40,1151.65 L1615.36,1152.32 L1618.65,1152.96 L1621.94,1153.49 L1625.23,1153.94 L1632.80,1154.72 L1642.02,1155.33 L1652.22,1155.73 L1665.06,1156.01 L1681.19,1156.18 L1703.90,1156.26" fill="none" stroke="#0000ff" stroke-width="4.80" stroke-linecap="square" stroke-linejoin="round"/>
</g>
<rect x="1289.40" y="830.00" width="434.10" height="342.00" fill="none" stroke="#000" stroke-width="3.10"/>
<line x1="1440.80" y1="1172.00" x2="1440.80" y2="1185.20" stroke="#000" stroke-width="3.10"/>
<line x1="1616.20" y1="1172.00" x2="1616.20" y2="1185.20" stroke="#000" stroke-width="3.10"/>
<line x1="1276.10" y1="1156.30" x2="1289.40" y2="1156.30" stroke="#000" stroke-width="3.10"/>
<text text-anchor="end"><tspan x="1262.70" y="1170.00" font-size="38.60">0.00</tspan></text>
<line x1="1276.10" y1="1057.30" x2="1289.40" y2="1057.30" stroke="#000" stroke-width="3.10"/>
<text text-anchor="end"><tspan x="1262.70" y="1071.00" font-size="38.60">0.05</tspan></text>
<line x1="1276.10" y1="958.30" x2="1289.40" y2="958.30" stroke="#000" stroke-width="3.10"/>
<text text-anchor="end"><tspan x="1262.70" y="972.00" font-size="38.60">0.10</tspan></text>
<line x1="1276.10" y1="859.30" x2="1289.40" y2="859.30" stroke="#000" stroke-width="3.10"/>
<text text-anchor="end"><tspan x="1262.70" y="873.00" font-size="38.60">0.15</tspan></text>
<text><tspan x="1402.40" y="1224.70" font-size="38.60">10</tspan><tspan x="1441.50" y="1213.80" font-size="30.00" textLength="21.99" lengthAdjust="spacingAndGlyphs">−</tspan><tspan x="1463.50" y="1210.90" font-size="28.00" textLength="14.98" lengthAdjust="spacingAndGlyphs">3</tspan></text>
<text><tspan x="1589.30" y="1224.70" font-size="38.60">10</tspan><tspan x="1628.20" y="1210.70" font-size="28.00" textLength="14.70" lengthAdjust="spacingAndGlyphs">1</tspan></text>
<text><tspan x="1463.60" y="1277.20" font-size="40.00" font-style="italic" stroke="#fff" stroke-width="0.50">v</tspan><tspan x="1485.10" y="1287.40" font-size="61.00" stroke="#fff" stroke-width="0.80" textLength="15.25" lengthAdjust="spacingAndGlyphs">/</tspan><tspan x="1503.00" y="1277.30" font-size="40.00" textLength="30.87" lengthAdjust="spacingAndGlyphs">Δ</tspan><tspan x="1534.00" y="1263.60" font-size="27.00">2</tspan></text>
<text><tspan x="1585.90" y="894.50" font-size="40.00">|</tspan><tspan x="1596.80" y="901.30" font-size="45.00" font-family="'DejaVu Sans Light', 'DejaVu Sans', serif" textLength="36.57" lengthAdjust="spacingAndGlyphs">↑</tspan><tspan x="1626.90" y="894.50" font-size="40.00">,</tspan><tspan x="1641.60" y="894.50" font-size="38.60">25</tspan><tspan x="1680.00" y="897.10" font-size="44.00" font-family="'DejaVu Math TeX Gyre', 'DejaVu Sans', serif" stroke="#fff" stroke-width="0.70" textLength="12.87" lengthAdjust="spacingAndGlyphs">⟩</tspan></text>
<line x1="1336.40" y1="894.30" x2="1355.90" y2="894.30" stroke="#ff0000" stroke-width="4.80" stroke-linecap="square"/>
<text fill="#ff0000"><tspan x="1374.30" y="907.70" font-size="38.40">100</tspan></text>
<line x1="1336.40" y1="947.85" x2="1355.90" y2="947.85" stroke="#00ff00" stroke-width="4.80" stroke-linecap="square"/>
<text fill="#00ff00"><tspan x="1374.30" y="961.25" font-size="38.40">10</tspan></text>
<line x1="1336.40" y1="1001.40" x2="1355.90" y2="1001.40" stroke="#0000ff" stroke-width="4.80" stroke-linecap="square"/>
<text fill="#0000ff"><tspan x="1374.30" y="1014.80" font-size="38.40">1</tspan></text>
</g>
</svg>
</body></html>
